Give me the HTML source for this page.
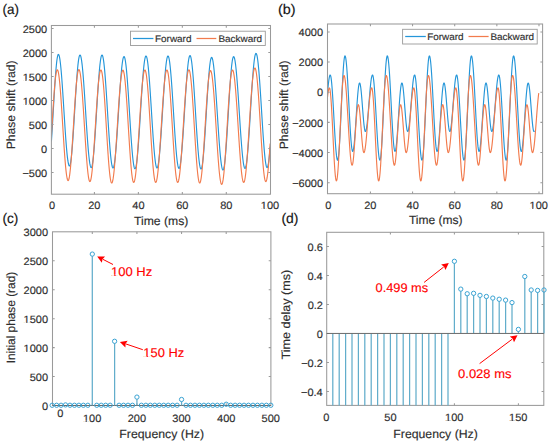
<!DOCTYPE html>
<html><head><meta charset="utf-8"><style>
html,body{margin:0;padding:0;background:#fff;width:550px;height:443px;overflow:hidden}
svg{display:block}
text{font-family:"Liberation Sans", sans-serif;text-rendering:geometricPrecision}
</style></head><body>
<svg width="550" height="443" viewBox="0 0 550 443">
<rect width="550" height="443" fill="#fff"/>
<clipPath id="ca"><rect x="51.4" y="25.5" width="219.1" height="168.7"/></clipPath>
<path d="M51.40 141.42 L51.65 137.75 L51.90 133.92 L52.15 129.95 L52.40 125.86 L52.65 121.68 L52.90 117.43 L53.15 113.13 L53.40 108.82 L53.65 104.52 L53.90 100.25 L54.15 96.04 L54.40 91.91 L54.65 87.89 L54.90 84.01 L55.15 80.28 L55.40 76.74 L55.65 73.39 L55.90 70.26 L56.15 67.37 L56.40 64.73 L56.65 62.37 L56.90 60.30 L57.15 58.52 L57.40 57.05 L57.65 55.89 L57.90 55.07 L58.15 54.57 L58.40 54.40 L58.65 54.54 L58.90 54.97 L59.15 55.68 L59.40 56.66 L59.65 57.92 L59.90 59.44 L60.15 61.23 L60.40 63.26 L60.65 65.53 L60.90 68.03 L61.15 70.74 L61.40 73.66 L61.65 76.76 L61.90 80.03 L62.15 83.46 L62.40 87.02 L62.65 90.70 L62.90 94.48 L63.15 98.34 L63.40 102.26 L63.65 106.22 L63.90 110.20 L64.15 114.18 L64.40 118.14 L64.65 122.06 L64.90 125.92 L65.15 129.70 L65.40 133.38 L65.65 136.94 L65.90 140.37 L66.15 143.64 L66.40 146.74 L66.65 149.66 L66.90 152.37 L67.15 154.87 L67.40 157.14 L67.65 159.17 L67.90 160.96 L68.15 162.48 L68.40 163.74 L68.65 164.72 L68.90 165.43 L69.15 165.86 L69.40 166.00 L69.65 165.85 L69.90 165.39 L70.15 164.63 L70.40 163.58 L70.65 162.23 L70.90 160.61 L71.15 158.70 L71.40 156.53 L71.65 154.11 L71.90 151.45 L72.15 148.56 L72.40 145.47 L72.65 142.18 L72.90 138.72 L73.15 135.11 L73.40 131.36 L73.65 127.49 L73.90 123.54 L74.15 119.51 L74.40 115.43 L74.65 111.32 L74.90 107.21 L75.15 103.12 L75.40 99.07 L75.65 95.08 L75.90 91.17 L76.15 87.38 L76.40 83.71 L76.65 80.18 L76.90 76.82 L77.15 73.65 L77.40 70.68 L77.65 67.93 L77.90 65.41 L78.15 63.14 L78.40 61.12 L78.65 59.38 L78.90 57.92 L79.15 56.75 L79.40 55.88 L79.65 55.30 L79.90 55.02 L80.15 55.05 L80.40 55.35 L80.65 55.93 L80.90 56.78 L81.15 57.90 L81.40 59.29 L81.65 60.92 L81.90 62.81 L82.15 64.93 L82.40 67.28 L82.65 69.85 L82.90 72.62 L83.15 75.58 L83.40 78.72 L83.65 82.02 L83.90 85.46 L84.15 89.03 L84.40 92.71 L84.65 96.47 L84.90 100.32 L85.15 104.21 L85.40 108.14 L85.65 112.09 L85.90 116.03 L86.15 119.95 L86.40 123.83 L86.65 127.64 L86.90 131.38 L87.15 135.01 L87.40 138.53 L87.65 141.92 L87.90 145.15 L88.15 148.22 L88.40 151.11 L88.65 153.80 L88.90 156.28 L89.15 158.55 L89.40 160.58 L89.65 162.36 L89.90 163.90 L90.15 165.18 L90.40 166.19 L90.65 166.93 L90.90 167.40 L91.15 167.59 L91.40 167.50 L91.65 167.12 L91.90 166.44 L92.15 165.46 L92.40 164.20 L92.65 162.67 L92.90 160.86 L93.15 158.78 L93.40 156.46 L93.65 153.90 L93.90 151.11 L94.15 148.11 L94.40 144.92 L94.65 141.55 L94.90 138.02 L95.15 134.35 L95.40 130.56 L95.65 126.66 L95.90 122.68 L96.15 118.65 L96.40 114.57 L96.65 110.48 L96.90 106.39 L97.15 102.33 L97.40 98.32 L97.65 94.37 L97.90 90.51 L98.15 86.77 L98.40 83.15 L98.65 79.68 L98.90 76.38 L99.15 73.26 L99.40 70.35 L99.65 67.65 L99.90 65.18 L100.15 62.96 L100.40 60.99 L100.65 59.29 L100.90 57.86 L101.15 56.71 L101.40 55.86 L101.65 55.29 L101.90 55.02 L102.15 55.05 L102.40 55.37 L102.65 55.97 L102.90 56.86 L103.15 58.02 L103.40 59.46 L103.65 61.16 L103.90 63.12 L104.15 65.32 L104.40 67.76 L104.65 70.42 L104.90 73.30 L105.15 76.36 L105.40 79.61 L105.65 83.02 L105.90 86.57 L106.15 90.25 L106.40 94.04 L106.65 97.92 L106.90 101.87 L107.15 105.86 L107.40 109.89 L107.65 113.92 L107.90 117.94 L108.15 121.93 L108.40 125.86 L108.65 129.72 L108.90 133.49 L109.15 137.15 L109.40 140.68 L109.65 144.05 L109.90 147.27 L110.15 150.29 L110.40 153.13 L110.65 155.75 L110.90 158.14 L111.15 160.30 L111.40 162.20 L111.65 163.85 L111.90 165.23 L112.15 166.34 L112.40 167.17 L112.65 167.72 L112.90 167.98 L113.15 167.95 L113.40 167.64 L113.65 167.04 L113.90 166.17 L114.15 165.02 L114.40 163.61 L114.65 161.93 L114.90 160.00 L115.15 157.83 L115.40 155.42 L115.65 152.79 L115.90 149.96 L116.15 146.94 L116.40 143.74 L116.65 140.38 L116.90 136.88 L117.15 133.25 L117.40 129.51 L117.65 125.69 L117.90 121.80 L118.15 117.86 L118.40 113.89 L118.65 109.91 L118.90 105.95 L119.15 102.02 L119.40 98.14 L119.65 94.33 L119.90 90.62 L120.15 87.01 L120.40 83.54 L120.65 80.21 L120.90 77.04 L121.15 74.05 L121.40 71.26 L121.65 68.68 L121.90 66.32 L122.15 64.20 L122.40 62.31 L122.65 60.69 L122.90 59.33 L123.15 58.23 L123.40 57.42 L123.65 56.88 L123.90 56.62 L124.15 56.65 L124.40 56.97 L124.65 57.56 L124.90 58.44 L125.15 59.60 L125.40 61.02 L125.65 62.71 L125.90 64.66 L126.15 66.85 L126.40 69.27 L126.65 71.91 L126.90 74.77 L127.15 77.81 L127.40 81.03 L127.65 84.42 L127.90 87.95 L128.15 91.60 L128.40 95.36 L128.65 99.21 L128.90 103.13 L129.15 107.10 L129.40 111.10 L129.65 115.10 L129.90 119.09 L130.15 123.05 L130.40 126.96 L130.65 130.80 L130.90 134.54 L131.15 138.17 L131.40 141.67 L131.65 145.02 L131.90 148.21 L132.15 151.22 L132.40 154.03 L132.65 156.63 L132.90 159.01 L133.15 161.15 L133.40 163.04 L133.65 164.68 L133.90 166.05 L134.15 167.16 L134.40 167.98 L134.65 168.52 L134.90 168.78 L135.15 168.75 L135.40 168.43 L135.65 167.83 L135.90 166.95 L136.15 165.79 L136.40 164.35 L136.65 162.65 L136.90 160.70 L137.15 158.50 L137.40 156.06 L137.65 153.40 L137.90 150.54 L138.15 147.47 L138.40 144.23 L138.65 140.83 L138.90 137.28 L139.15 133.61 L139.40 129.83 L139.65 125.96 L139.90 122.02 L140.15 118.03 L140.40 114.01 L140.65 109.98 L140.90 105.97 L141.15 101.99 L141.40 98.06 L141.65 94.21 L141.90 90.45 L142.15 86.79 L142.40 83.28 L142.65 79.90 L142.90 76.70 L143.15 73.67 L143.40 70.85 L143.65 68.23 L143.90 65.84 L144.15 63.69 L144.40 61.79 L144.65 60.14 L144.90 58.76 L145.15 57.65 L145.40 56.83 L145.65 56.28 L145.90 56.02 L146.15 56.05 L146.40 56.37 L146.65 56.96 L146.90 57.84 L147.15 58.99 L147.40 60.42 L147.65 62.10 L147.90 64.04 L148.15 66.23 L148.40 68.65 L148.65 71.29 L148.90 74.13 L149.15 77.17 L149.40 80.39 L149.65 83.77 L149.90 87.29 L150.15 90.94 L150.40 94.70 L150.65 98.54 L150.90 102.45 L151.15 106.41 L151.40 110.40 L151.65 114.40 L151.90 118.38 L152.15 122.34 L152.40 126.24 L152.65 130.06 L152.90 133.80 L153.15 137.42 L153.40 140.92 L153.65 144.27 L153.90 147.45 L154.15 150.45 L154.40 153.26 L154.65 155.85 L154.90 158.23 L155.15 160.36 L155.40 162.25 L155.65 163.89 L155.90 165.26 L156.15 166.36 L156.40 167.18 L156.65 167.72 L156.90 167.98 L157.15 167.95 L157.40 167.63 L157.65 167.04 L157.90 166.16 L158.15 165.01 L158.40 163.58 L158.65 161.90 L158.90 159.96 L159.15 157.77 L159.40 155.35 L159.65 152.71 L159.90 149.87 L160.15 146.83 L160.40 143.61 L160.65 140.23 L160.90 136.71 L161.15 133.06 L161.40 129.30 L161.65 125.46 L161.90 121.55 L162.15 117.59 L162.40 113.60 L162.65 109.60 L162.90 105.62 L163.15 101.66 L163.40 97.76 L163.65 93.94 L163.90 90.20 L164.15 86.58 L164.40 83.08 L164.65 79.73 L164.90 76.55 L165.15 73.55 L165.40 70.74 L165.65 68.15 L165.90 65.77 L166.15 63.64 L166.40 61.75 L166.65 60.11 L166.90 58.74 L167.15 57.64 L167.40 56.82 L167.65 56.28 L167.90 56.02 L168.15 56.05 L168.40 56.37 L168.65 56.97 L168.90 57.85 L169.15 59.00 L169.40 60.43 L169.65 62.13 L169.90 64.07 L170.15 66.27 L170.40 68.69 L170.65 71.34 L170.90 74.20 L171.15 77.25 L171.40 80.48 L171.65 83.87 L171.90 87.40 L172.15 91.06 L172.40 94.83 L172.65 98.69 L172.90 102.62 L173.15 106.59 L173.40 110.60 L173.65 114.61 L173.90 118.61 L174.15 122.57 L174.40 126.49 L174.65 130.33 L174.90 134.08 L175.15 137.71 L175.40 141.22 L175.65 144.58 L175.90 147.78 L176.15 150.79 L176.40 153.60 L176.65 156.21 L176.90 158.59 L177.15 160.74 L177.40 162.63 L177.65 164.27 L177.90 165.65 L178.15 166.75 L178.40 167.58 L178.65 168.12 L178.90 168.38 L179.15 168.35 L179.40 168.03 L179.65 167.43 L179.90 166.55 L180.15 165.39 L180.40 163.95 L180.65 162.25 L180.90 160.30 L181.15 158.10 L181.40 155.66 L181.65 153.00 L181.90 150.14 L182.15 147.07 L182.40 143.83 L182.65 140.43 L182.90 136.88 L183.15 133.21 L183.40 129.43 L183.65 125.56 L183.90 121.62 L184.15 117.63 L184.40 113.61 L184.65 109.58 L184.90 105.57 L185.15 101.59 L185.40 97.66 L185.65 93.81 L185.90 90.05 L186.15 86.39 L186.40 82.88 L186.65 79.50 L186.90 76.30 L187.15 73.27 L187.40 70.45 L187.65 67.83 L187.90 65.44 L188.15 63.29 L188.40 61.39 L188.65 59.74 L188.90 58.36 L189.15 57.25 L189.40 56.43 L189.65 55.88 L189.90 55.62 L190.15 55.65 L190.40 55.97 L190.65 56.57 L190.90 57.46 L191.15 58.63 L191.40 60.07 L191.65 61.78 L191.90 63.75 L192.15 65.96 L192.40 68.41 L192.65 71.08 L192.90 73.96 L193.15 77.04 L193.40 80.30 L193.65 83.72 L193.90 87.28 L194.15 90.98 L194.40 94.78 L194.65 98.67 L194.90 102.63 L195.15 106.64 L195.40 110.68 L195.65 114.73 L195.90 118.76 L196.15 122.77 L196.40 126.71 L196.65 130.59 L196.90 134.37 L197.15 138.04 L197.40 141.58 L197.65 144.97 L197.90 148.19 L198.15 151.23 L198.40 154.07 L198.65 156.70 L198.90 159.10 L199.15 161.27 L199.40 163.18 L199.65 164.84 L199.90 166.22 L200.15 167.34 L200.40 168.17 L200.65 168.72 L200.90 168.98 L201.15 168.94 L201.40 168.61 L201.65 167.97 L201.90 167.03 L202.15 165.79 L202.40 164.27 L202.65 162.46 L202.90 160.38 L203.15 158.05 L203.40 155.47 L203.65 152.66 L203.90 149.63 L204.15 146.40 L204.40 142.99 L204.65 139.41 L204.90 135.69 L205.15 131.85 L205.40 127.91 L205.65 123.88 L205.90 119.80 L206.15 115.68 L206.40 111.55 L206.65 107.42 L206.90 103.33 L207.15 99.29 L207.40 95.33 L207.65 91.46 L207.90 87.72 L208.15 84.12 L208.40 80.67 L208.65 77.40 L208.90 74.33 L209.15 71.48 L209.40 68.85 L209.65 66.46 L209.90 64.33 L210.15 62.47 L210.40 60.89 L210.65 59.60 L210.90 58.60 L211.15 57.90 L211.40 57.50 L211.65 57.41 L211.90 57.59 L212.15 58.05 L212.40 58.76 L212.65 59.74 L212.90 60.97 L213.15 62.46 L213.40 64.19 L213.65 66.15 L213.90 68.34 L214.15 70.74 L214.40 73.35 L214.65 76.14 L214.90 79.12 L215.15 82.26 L215.40 85.55 L215.65 88.97 L215.90 92.51 L216.15 96.15 L216.40 99.88 L216.65 103.67 L216.90 107.51 L217.15 111.37 L217.40 115.25 L217.65 119.12 L217.90 122.97 L218.15 126.77 L218.40 130.51 L218.65 134.17 L218.90 137.73 L219.15 141.18 L219.40 144.49 L219.65 147.66 L219.90 150.68 L220.15 153.51 L220.40 156.16 L220.65 158.60 L220.90 160.83 L221.15 162.84 L221.40 164.62 L221.65 166.15 L221.90 167.43 L222.15 168.46 L222.40 169.23 L222.65 169.74 L222.90 169.98 L223.15 169.94 L223.40 169.60 L223.65 168.95 L223.90 167.99 L224.15 166.74 L224.40 165.19 L224.65 163.35 L224.90 161.25 L225.15 158.87 L225.40 156.25 L225.65 153.39 L225.90 150.32 L226.15 147.03 L226.40 143.57 L226.65 139.94 L226.90 136.16 L227.15 132.25 L227.40 128.25 L227.65 124.16 L227.90 120.01 L228.15 115.82 L228.40 111.62 L228.65 107.43 L228.90 103.27 L229.15 99.17 L229.40 95.14 L229.65 91.21 L229.90 87.41 L230.15 83.75 L230.40 80.25 L230.65 76.93 L230.90 73.81 L231.15 70.90 L231.40 68.23 L231.65 65.81 L231.90 63.65 L232.15 61.76 L232.40 60.15 L232.65 58.83 L232.90 57.82 L233.15 57.10 L233.40 56.70 L233.65 56.61 L233.90 56.79 L234.15 57.24 L234.40 57.95 L234.65 58.92 L234.90 60.15 L235.15 61.62 L235.40 63.34 L235.65 65.29 L235.90 67.46 L236.15 69.84 L236.40 72.43 L236.65 75.21 L236.90 78.17 L237.15 81.28 L237.40 84.55 L237.65 87.95 L237.90 91.46 L238.15 95.08 L238.40 98.78 L238.65 102.54 L238.90 106.35 L239.15 110.19 L239.40 114.04 L239.65 117.88 L239.90 121.70 L240.15 125.47 L240.40 129.19 L240.65 132.82 L240.90 136.36 L241.15 139.78 L241.40 143.07 L241.65 146.22 L241.90 149.21 L242.15 152.03 L242.40 154.65 L242.65 157.08 L242.90 159.30 L243.15 161.29 L243.40 163.05 L243.65 164.58 L243.90 165.85 L244.15 166.87 L244.40 167.64 L244.65 168.14 L244.90 168.38 L245.15 168.35 L245.40 168.03 L245.65 167.41 L245.90 166.51 L246.15 165.33 L246.40 163.86 L246.65 162.13 L246.90 160.14 L247.15 157.90 L247.40 155.41 L247.65 152.70 L247.90 149.78 L248.15 146.66 L248.40 143.36 L248.65 139.89 L248.90 136.27 L249.15 132.52 L249.40 128.67 L249.65 124.72 L249.90 120.71 L250.15 116.64 L250.40 112.54 L250.65 108.44 L250.90 104.35 L251.15 100.29 L251.40 96.28 L251.65 92.35 L251.90 88.52 L252.15 84.80 L252.40 81.21 L252.65 77.77 L252.90 74.50 L253.15 71.42 L253.40 68.54 L253.65 65.87 L253.90 63.44 L254.15 61.24 L254.40 59.30 L254.65 57.62 L254.90 56.21 L255.15 55.09 L255.40 54.24 L255.65 53.69 L255.90 53.42 L256.15 53.45 L256.40 53.77 L256.65 54.36 L256.90 55.24 L257.15 56.40 L257.40 57.82 L257.65 59.51 L257.90 61.46 L258.15 63.65 L258.40 66.07 L258.65 68.72 L258.90 71.58 L259.15 74.63 L259.40 77.86 L259.65 81.25 L259.90 84.79 L260.15 88.46 L260.40 92.24 L260.65 96.11 L260.90 100.05 L261.15 104.05 L261.40 108.08 L261.65 112.12 L261.90 116.15 L262.15 120.15 L262.40 124.10 L262.65 127.99 L262.90 131.79 L263.15 135.48 L263.40 139.05 L263.65 142.47 L263.90 145.74 L264.15 148.83 L264.40 151.72 L264.65 154.41 L264.90 156.88 L265.15 159.12 L265.40 161.12 L265.65 162.86 L265.90 164.34 L266.15 165.55 L266.40 166.48 L266.65 167.14 L266.90 167.51 L267.15 167.59 L267.40 167.38 L267.65 166.88 L267.90 166.07 L268.15 164.98 L268.40 163.60 L268.65 161.95 L268.90 160.02 L269.15 157.83 L269.40 155.40 L269.65 152.73 L269.90 149.84 L270.15 146.74" stroke="#2496d9" stroke-width="1.15" fill="none" stroke-linejoin="round" clip-path="url(#ca)"/>
<path d="M51.40 135.91 L51.65 131.81 L51.90 127.69 L52.15 123.54 L52.40 119.41 L52.65 115.31 L52.90 111.26 L53.15 107.29 L53.40 103.43 L53.65 99.68 L53.90 96.08 L54.15 92.64 L54.40 89.38 L54.65 86.32 L54.90 83.48 L55.15 80.87 L55.40 78.51 L55.65 76.42 L55.90 74.59 L56.15 73.05 L56.40 71.80 L56.65 70.84 L56.90 70.20 L57.15 69.86 L57.40 69.82 L57.65 70.09 L57.90 70.64 L58.15 71.48 L58.40 72.61 L58.65 74.02 L58.90 75.69 L59.15 77.63 L59.40 79.82 L59.65 82.25 L59.90 84.90 L60.15 87.77 L60.40 90.84 L60.65 94.09 L60.90 97.50 L61.15 101.06 L61.40 104.75 L61.65 108.54 L61.90 112.42 L62.15 116.37 L62.40 120.37 L62.65 124.39 L62.90 128.42 L63.15 132.43 L63.40 136.40 L63.65 140.32 L63.90 144.15 L64.15 147.88 L64.40 151.49 L64.65 154.97 L64.90 158.28 L65.15 161.42 L65.40 164.37 L65.65 167.12 L65.90 169.64 L66.15 171.92 L66.40 173.96 L66.65 175.74 L66.90 177.26 L67.15 178.50 L67.40 179.46 L67.65 180.13 L67.90 180.51 L68.15 180.59 L68.40 180.39 L68.65 179.89 L68.90 179.10 L69.15 178.03 L69.40 176.68 L69.65 175.05 L69.90 173.16 L70.15 171.02 L70.40 168.64 L70.65 166.02 L70.90 163.19 L71.15 160.15 L71.40 156.93 L71.65 153.55 L71.90 150.01 L72.15 146.34 L72.40 142.56 L72.65 138.68 L72.90 134.74 L73.15 130.74 L73.40 126.71 L73.65 122.68 L73.90 118.66 L74.15 114.67 L74.40 110.74 L74.65 106.88 L74.90 103.12 L75.15 99.47 L75.40 95.96 L75.65 92.61 L75.90 89.43 L76.15 86.43 L76.40 83.64 L76.65 81.07 L76.90 78.73 L77.15 76.64 L77.40 74.80 L77.65 73.23 L77.90 71.93 L78.15 70.92 L78.40 70.19 L78.65 69.75 L78.90 69.60 L79.15 69.74 L79.40 70.17 L79.65 70.88 L79.90 71.87 L80.15 73.13 L80.40 74.66 L80.65 76.45 L80.90 78.49 L81.15 80.77 L81.40 83.28 L81.65 86.00 L81.90 88.93 L82.15 92.04 L82.40 95.32 L82.65 98.76 L82.90 102.34 L83.15 106.03 L83.40 109.82 L83.65 113.70 L83.90 117.63 L84.15 121.61 L84.40 125.60 L84.65 129.59 L84.90 133.57 L85.15 137.50 L85.40 141.38 L85.65 145.17 L85.90 148.86 L86.15 152.44 L86.40 155.88 L86.65 159.16 L86.90 162.27 L87.15 165.20 L87.40 167.92 L87.65 170.43 L87.90 172.71 L88.15 174.75 L88.40 176.54 L88.65 178.07 L88.90 179.33 L89.15 180.32 L89.40 181.03 L89.65 181.46 L89.90 181.60 L90.15 181.46 L90.40 181.03 L90.65 180.32 L90.90 179.34 L91.15 178.08 L91.40 176.56 L91.65 174.77 L91.90 172.74 L92.15 170.47 L92.40 167.97 L92.65 165.26 L92.90 162.34 L93.15 159.24 L93.40 155.97 L93.65 152.54 L93.90 148.98 L94.15 145.30 L94.40 141.52 L94.65 137.66 L94.90 133.74 L95.15 129.78 L95.40 125.80 L95.65 121.82 L95.90 117.86 L96.15 113.94 L96.40 110.08 L96.65 106.30 L96.90 102.62 L97.15 99.06 L97.40 95.63 L97.65 92.36 L97.90 89.26 L98.15 86.34 L98.40 83.63 L98.65 81.13 L98.90 78.86 L99.15 76.83 L99.40 75.04 L99.65 73.52 L99.90 72.26 L100.15 71.28 L100.40 70.57 L100.65 70.14 L100.90 70.00 L101.15 70.15 L101.40 70.60 L101.65 71.34 L101.90 72.37 L102.15 73.69 L102.40 75.29 L102.65 77.16 L102.90 79.29 L103.15 81.68 L103.40 84.29 L103.65 87.13 L103.90 90.18 L104.15 93.42 L104.40 96.84 L104.65 100.41 L104.90 104.12 L105.15 107.95 L105.40 111.88 L105.65 115.88 L105.90 119.94 L106.15 124.04 L106.40 128.14 L106.65 132.24 L106.90 136.31 L107.15 140.33 L107.40 144.27 L107.65 148.12 L107.90 151.86 L108.15 155.46 L108.40 158.91 L108.65 162.18 L108.90 165.27 L109.15 168.16 L109.40 170.82 L109.65 173.25 L109.90 175.43 L110.15 177.35 L110.40 179.01 L110.65 180.39 L110.90 181.48 L111.15 182.28 L111.40 182.79 L111.65 182.99 L111.90 182.91 L112.15 182.55 L112.40 181.92 L112.65 181.01 L112.90 179.84 L113.15 178.40 L113.40 176.71 L113.65 174.77 L113.90 172.60 L114.15 170.20 L114.40 167.58 L114.65 164.77 L114.90 161.76 L115.15 158.59 L115.40 155.26 L115.65 151.78 L115.90 148.18 L116.15 144.48 L116.40 140.69 L116.65 136.83 L116.90 132.91 L117.15 128.97 L117.40 125.02 L117.65 121.07 L117.90 117.15 L118.15 113.28 L118.40 109.47 L118.65 105.75 L118.90 102.13 L119.15 98.63 L119.40 95.27 L119.65 92.06 L119.90 89.02 L120.15 86.16 L120.40 83.51 L120.65 81.06 L120.90 78.84 L121.15 76.86 L121.40 75.12 L121.65 73.63 L121.90 72.40 L122.15 71.44 L122.40 70.75 L122.65 70.34 L122.90 70.20 L123.15 70.35 L123.40 70.79 L123.65 71.53 L123.90 72.56 L124.15 73.87 L124.40 75.46 L124.65 77.31 L124.90 79.43 L125.15 81.79 L125.40 84.39 L125.65 87.21 L125.90 90.24 L126.15 93.46 L126.40 96.85 L126.65 100.40 L126.90 104.08 L127.15 107.88 L127.40 111.78 L127.65 115.76 L127.90 119.79 L128.15 123.85 L128.40 127.93 L128.65 132.00 L128.90 136.04 L129.15 140.03 L129.40 143.95 L129.65 147.77 L129.90 151.48 L130.15 155.05 L130.40 158.48 L130.65 161.73 L130.90 164.80 L131.15 167.66 L131.40 170.31 L131.65 172.72 L131.90 174.88 L132.15 176.79 L132.40 178.44 L132.65 179.80 L132.90 180.89 L133.15 181.68 L133.40 182.19 L133.65 182.39 L133.90 182.31 L134.15 181.95 L134.40 181.32 L134.65 180.42 L134.90 179.25 L135.15 177.82 L135.40 176.13 L135.65 174.20 L135.90 172.03 L136.15 169.64 L136.40 167.04 L136.65 164.23 L136.90 161.24 L137.15 158.08 L137.40 154.75 L137.65 151.29 L137.90 147.71 L138.15 144.02 L138.40 140.24 L138.65 136.39 L138.90 132.49 L139.15 128.56 L139.40 124.62 L139.65 120.69 L139.90 116.79 L140.15 112.93 L140.40 109.13 L140.65 105.42 L140.90 101.82 L141.15 98.33 L141.40 94.98 L141.65 91.78 L141.90 88.75 L142.15 85.91 L142.40 83.26 L142.65 80.83 L142.90 78.61 L143.15 76.64 L143.40 74.90 L143.65 73.42 L143.90 72.20 L144.15 71.24 L144.40 70.55 L144.65 70.14 L144.90 70.00 L145.15 70.15 L145.40 70.59 L145.65 71.33 L145.90 72.36 L146.15 73.67 L146.40 75.27 L146.65 77.13 L146.90 79.25 L147.15 81.61 L147.40 84.22 L147.65 87.04 L147.90 90.08 L148.15 93.30 L148.40 96.70 L148.65 100.25 L148.90 103.94 L149.15 107.75 L149.40 111.65 L149.65 115.64 L149.90 119.68 L150.15 123.75 L150.40 127.83 L150.65 131.91 L150.90 135.96 L151.15 139.95 L151.40 143.88 L151.65 147.71 L151.90 151.42 L152.15 155.00 L152.40 158.43 L152.65 161.69 L152.90 164.77 L153.15 167.63 L153.40 170.28 L153.65 172.70 L153.90 174.87 L154.15 176.78 L154.40 178.43 L154.65 179.80 L154.90 180.89 L155.15 181.68 L155.40 182.19 L155.65 182.39 L155.90 182.31 L156.15 181.95 L156.40 181.32 L156.65 180.42 L156.90 179.25 L157.15 177.82 L157.40 176.13 L157.65 174.20 L157.90 172.03 L158.15 169.64 L158.40 167.04 L158.65 164.23 L158.90 161.24 L159.15 158.08 L159.40 154.75 L159.65 151.29 L159.90 147.71 L160.15 144.02 L160.40 140.24 L160.65 136.39 L160.90 132.49 L161.15 128.56 L161.40 124.62 L161.65 120.69 L161.90 116.79 L162.15 112.93 L162.40 109.13 L162.65 105.42 L162.90 101.82 L163.15 98.33 L163.40 94.98 L163.65 91.78 L163.90 88.75 L164.15 85.91 L164.40 83.26 L164.65 80.83 L164.90 78.61 L165.15 76.64 L165.40 74.90 L165.65 73.42 L165.90 72.20 L166.15 71.24 L166.40 70.55 L166.65 70.14 L166.90 70.00 L167.15 70.15 L167.40 70.59 L167.65 71.33 L167.90 72.36 L168.15 73.67 L168.40 75.27 L168.65 77.13 L168.90 79.25 L169.15 81.61 L169.40 84.22 L169.65 87.04 L169.90 90.08 L170.15 93.30 L170.40 96.70 L170.65 100.25 L170.90 103.94 L171.15 107.75 L171.40 111.65 L171.65 115.64 L171.90 119.68 L172.15 123.75 L172.40 127.83 L172.65 131.91 L172.90 135.96 L173.15 139.95 L173.40 143.88 L173.65 147.71 L173.90 151.42 L174.15 155.00 L174.40 158.43 L174.65 161.69 L174.90 164.77 L175.15 167.63 L175.40 170.28 L175.65 172.70 L175.90 174.87 L176.15 176.78 L176.40 178.43 L176.65 179.80 L176.90 180.89 L177.15 181.68 L177.40 182.19 L177.65 182.39 L177.90 182.31 L178.15 181.95 L178.40 181.32 L178.65 180.41 L178.90 179.24 L179.15 177.81 L179.40 176.12 L179.65 174.19 L179.90 172.02 L180.15 169.62 L180.40 167.01 L180.65 164.20 L180.90 161.20 L181.15 158.03 L181.40 154.70 L181.65 151.24 L181.90 147.65 L182.15 143.95 L182.40 140.16 L182.65 136.31 L182.90 132.40 L183.15 128.47 L183.40 124.52 L183.65 120.58 L183.90 116.67 L184.15 112.80 L184.40 109.00 L184.65 105.29 L184.90 101.67 L185.15 98.18 L185.40 94.82 L185.65 91.62 L185.90 88.58 L186.15 85.74 L186.40 83.08 L186.65 80.65 L186.90 78.43 L187.15 76.45 L187.40 74.71 L187.65 73.23 L187.90 72.00 L188.15 71.04 L188.40 70.35 L188.65 69.94 L188.90 69.80 L189.15 69.95 L189.40 70.40 L189.65 71.14 L189.90 72.18 L190.15 73.50 L190.40 75.10 L190.65 76.98 L190.90 79.11 L191.15 81.50 L191.40 84.12 L191.65 86.96 L191.90 90.02 L192.15 93.26 L192.40 96.69 L192.65 100.27 L192.90 103.98 L193.15 107.82 L193.40 111.75 L193.65 115.76 L193.90 119.83 L194.15 123.93 L194.40 128.05 L194.65 132.15 L194.90 136.23 L195.15 140.25 L195.40 144.20 L195.65 148.06 L195.90 151.80 L196.15 155.41 L196.40 158.86 L196.65 162.15 L196.90 165.24 L197.15 168.13 L197.40 170.80 L197.65 173.23 L197.90 175.42 L198.15 177.34 L198.40 179.00 L198.65 180.38 L198.90 181.47 L199.15 182.28 L199.40 182.78 L199.65 182.99 L199.90 182.90 L200.15 182.52 L200.40 181.84 L200.65 180.87 L200.90 179.61 L201.15 178.07 L201.40 176.27 L201.65 174.20 L201.90 171.88 L202.15 169.32 L202.40 166.54 L202.65 163.55 L202.90 160.36 L203.15 157.00 L203.40 153.47 L203.65 149.81 L203.90 146.02 L204.15 142.13 L204.40 138.16 L204.65 134.14 L204.90 130.07 L205.15 125.98 L205.40 121.90 L205.65 117.85 L205.90 113.84 L206.15 109.90 L206.40 106.05 L206.65 102.31 L206.90 98.70 L207.15 95.24 L207.40 91.94 L207.65 88.83 L207.90 85.92 L208.15 83.23 L208.40 80.76 L208.65 78.54 L208.90 76.58 L209.15 74.88 L209.40 73.45 L209.65 72.31 L209.90 71.45 L210.15 70.89 L210.40 70.62 L210.65 70.65 L210.90 70.96 L211.15 71.54 L211.40 72.40 L211.65 73.53 L211.90 74.93 L212.15 76.59 L212.40 78.49 L212.65 80.64 L212.90 83.01 L213.15 85.61 L213.40 88.41 L213.65 91.40 L213.90 94.57 L214.15 97.91 L214.40 101.38 L214.65 104.99 L214.90 108.71 L215.15 112.52 L215.40 116.40 L215.65 120.34 L215.90 124.31 L216.15 128.30 L216.40 132.28 L216.65 136.24 L216.90 140.16 L217.15 144.02 L217.40 147.79 L217.65 151.47 L217.90 155.02 L218.15 158.45 L218.40 161.71 L218.65 164.82 L218.90 167.73 L219.15 170.45 L219.40 172.96 L219.65 175.25 L219.90 177.30 L220.15 179.11 L220.40 180.66 L220.65 181.95 L220.90 182.97 L221.15 183.72 L221.40 184.20 L221.65 184.39 L221.90 184.30 L222.15 183.91 L222.40 183.22 L222.65 182.23 L222.90 180.95 L223.15 179.39 L223.40 177.55 L223.65 175.44 L223.90 173.08 L224.15 170.48 L224.40 167.65 L224.65 164.60 L224.90 161.36 L225.15 157.93 L225.40 154.35 L225.65 150.62 L225.90 146.76 L226.15 142.81 L226.40 138.77 L226.65 134.67 L226.90 130.53 L227.15 126.37 L227.40 122.21 L227.65 118.09 L227.90 114.01 L228.15 110.00 L228.40 106.08 L228.65 102.27 L228.90 98.60 L229.15 95.08 L229.40 91.72 L229.65 88.56 L229.90 85.59 L230.15 82.85 L230.40 80.34 L230.65 78.08 L230.90 76.08 L231.15 74.35 L231.40 72.90 L231.65 71.74 L231.90 70.87 L232.15 70.30 L232.40 70.02 L232.65 70.05 L232.90 70.35 L233.15 70.93 L233.40 71.78 L233.65 72.90 L233.90 74.28 L234.15 75.91 L234.40 77.79 L234.65 79.91 L234.90 82.26 L235.15 84.82 L235.40 87.59 L235.65 90.55 L235.90 93.68 L236.15 96.97 L236.40 100.41 L236.65 103.97 L236.90 107.64 L237.15 111.40 L237.40 115.24 L237.65 119.12 L237.90 123.05 L238.15 126.99 L238.40 130.92 L238.65 134.84 L238.90 138.71 L239.15 142.51 L239.40 146.24 L239.65 149.87 L239.90 153.39 L240.15 156.76 L240.40 159.99 L240.65 163.06 L240.90 165.94 L241.15 168.63 L241.40 171.10 L241.65 173.36 L241.90 175.39 L242.15 177.17 L242.40 178.70 L242.65 179.98 L242.90 180.99 L243.15 181.73 L243.40 182.20 L243.65 182.39 L243.90 182.31 L244.15 181.94 L244.40 181.30 L244.65 180.38 L244.90 179.19 L245.15 177.73 L245.40 176.02 L245.65 174.05 L245.90 171.85 L246.15 169.42 L246.40 166.76 L246.65 163.91 L246.90 160.86 L247.15 157.64 L247.40 154.26 L247.65 150.74 L247.90 147.09 L248.15 143.33 L248.40 139.49 L248.65 135.57 L248.90 131.60 L249.15 127.61 L249.40 123.60 L249.65 119.59 L249.90 115.62 L250.15 111.69 L250.40 107.83 L250.65 104.05 L250.90 100.38 L251.15 96.83 L251.40 93.42 L251.65 90.17 L251.90 87.08 L252.15 84.19 L252.40 81.50 L252.65 79.02 L252.90 76.77 L253.15 74.75 L253.40 72.99 L253.65 71.48 L253.90 70.24 L254.15 69.26 L254.40 68.56 L254.65 68.14 L254.90 68.00 L255.15 68.15 L255.40 68.59 L255.65 69.32 L255.90 70.34 L256.15 71.65 L256.40 73.23 L256.65 75.07 L256.90 77.18 L257.15 79.53 L257.40 82.12 L257.65 84.93 L257.90 87.94 L258.15 91.15 L258.40 94.53 L258.65 98.07 L258.90 101.75 L259.15 105.54 L259.40 109.44 L259.65 113.42 L259.90 117.45 L260.15 121.53 L260.40 125.62 L260.65 129.71 L260.90 133.77 L261.15 137.78 L261.40 141.73 L261.65 145.59 L261.90 149.34 L262.15 152.96 L262.40 156.44 L262.65 159.76 L262.90 162.89 L263.15 165.82 L263.40 168.54 L263.65 171.04 L263.90 173.29 L264.15 175.30 L264.40 177.04 L264.65 178.51 L264.90 179.70 L265.15 180.61 L265.40 181.22 L265.65 181.55 L265.90 181.58 L266.15 181.32 L266.40 180.78 L266.65 179.95 L266.90 178.84 L267.15 177.47 L267.40 175.82 L267.65 173.92 L267.90 171.77 L268.15 169.39 L268.40 166.78 L268.65 163.95 L268.90 160.93 L269.15 157.73 L269.40 154.36 L269.65 150.84 L269.90 147.19 L270.15 143.42" stroke="#f27b4d" stroke-width="1.15" fill="none" stroke-linejoin="round" clip-path="url(#ca)"/>
<rect x="51.40" y="25.50" width="219.10" height="168.70" fill="none" stroke="#9a9a9a" stroke-width="1.05"/>
<path d="M94.41 194.20V192.00M94.41 25.50V27.70M138.37 194.20V192.00M138.37 25.50V27.70M182.33 194.20V192.00M182.33 25.50V27.70M226.29 194.20V192.00M226.29 25.50V27.70M51.40 172.50H53.60M270.50 172.50H268.30M51.40 148.50H53.60M270.50 148.50H268.30M51.40 124.50H53.60M270.50 124.50H268.30M51.40 100.50H53.60M270.50 100.50H268.30M51.40 76.50H53.60M270.50 76.50H268.30M51.40 52.50H53.60M270.50 52.50H268.30M51.40 28.50H53.60M270.50 28.50H268.30" stroke="#9a9a9a" stroke-width="1.05" fill="none"/>
<text transform="translate(22.40 176.74) scale(1.040 1)" font-size="10.60" text-anchor="start" fill="#2e2e2e" stroke="#2e2e2e" stroke-width="0.15">−500</text>
<text transform="translate(41.10 152.74) scale(1.040 1)" font-size="10.60" text-anchor="start" fill="#2e2e2e" stroke="#2e2e2e" stroke-width="0.15">0</text>
<text transform="translate(28.84 128.74) scale(1.040 1)" font-size="10.60" text-anchor="start" fill="#2e2e2e" stroke="#2e2e2e" stroke-width="0.15">500</text>
<text transform="translate(22.71 104.74) scale(1.040 1)" font-size="10.60" text-anchor="start" fill="#2e2e2e" stroke="#2e2e2e" stroke-width="0.15">1000</text>
<g transform="translate(22.71 104.74) scale(1.040 1)" fill="#fff"><rect x="0.457" y="-0.912" width="2.188" height="1.292"/><rect x="3.622" y="-0.912" width="2.105" height="1.292"/></g>
<text transform="translate(22.71 80.74) scale(1.040 1)" font-size="10.60" text-anchor="start" fill="#2e2e2e" stroke="#2e2e2e" stroke-width="0.15">1500</text>
<g transform="translate(22.71 80.74) scale(1.040 1)" fill="#fff"><rect x="0.457" y="-0.912" width="2.188" height="1.292"/><rect x="3.622" y="-0.912" width="2.105" height="1.292"/></g>
<text transform="translate(22.71 56.74) scale(1.040 1)" font-size="10.60" text-anchor="start" fill="#2e2e2e" stroke="#2e2e2e" stroke-width="0.15">2000</text>
<text transform="translate(22.71 32.74) scale(1.040 1)" font-size="10.60" text-anchor="start" fill="#2e2e2e" stroke="#2e2e2e" stroke-width="0.15">2500</text>
<text transform="translate(48.94 209.00) scale(1.040 1)" font-size="10.60" text-anchor="start" fill="#2e2e2e" stroke="#2e2e2e" stroke-width="0.15">0</text>
<text transform="translate(88.22 209.00) scale(1.040 1)" font-size="10.60" text-anchor="start" fill="#2e2e2e" stroke="#2e2e2e" stroke-width="0.15">20</text>
<text transform="translate(132.33 209.00) scale(1.040 1)" font-size="10.60" text-anchor="start" fill="#2e2e2e" stroke="#2e2e2e" stroke-width="0.15">40</text>
<text transform="translate(176.13 209.00) scale(1.040 1)" font-size="10.60" text-anchor="start" fill="#2e2e2e" stroke="#2e2e2e" stroke-width="0.15">60</text>
<text transform="translate(220.14 209.00) scale(1.040 1)" font-size="10.60" text-anchor="start" fill="#2e2e2e" stroke="#2e2e2e" stroke-width="0.15">80</text>
<text transform="translate(260.85 209.00) scale(1.040 1)" font-size="10.60" text-anchor="start" fill="#2e2e2e" stroke="#2e2e2e" stroke-width="0.15">100</text>
<g transform="translate(260.85 209.00) scale(1.040 1)" fill="#fff"><rect x="0.457" y="-0.912" width="2.188" height="1.292"/><rect x="3.622" y="-0.912" width="2.105" height="1.292"/></g>
<text transform="translate(133.98 224.60) scale(1.016 1)" font-size="12.00" text-anchor="start" fill="#2e2e2e" stroke="#2e2e2e" stroke-width="0.15">Time (ms)</text>
<rect x="130.5" y="31.2" width="134.8" height="14.3" fill="#fff" stroke="#9a9a9a" stroke-width="0.9"/>
<path d="M133.0 38.5H153.4" stroke="#2496d9" stroke-width="1.25"/>
<path d="M196.5 38.5H216.3" stroke="#f27b4d" stroke-width="1.25"/>
<text transform="translate(155.03 41.70) scale(1.035 1)" font-size="9.60" text-anchor="start" fill="#2e2e2e" stroke="#2e2e2e" stroke-width="0.15">Forward</text>
<text transform="translate(218.43 41.70) scale(1.038 1)" font-size="9.60" text-anchor="start" fill="#2e2e2e" stroke="#2e2e2e" stroke-width="0.15">Backward</text>
<clipPath id="cb"><rect x="327.5" y="24.0" width="215.10000000000002" height="169.7"/></clipPath>
<path d="M327.50 93.55 L327.75 90.62 L328.00 87.86 L328.25 85.28 L328.50 82.94 L328.75 80.85 L329.00 79.06 L329.25 77.56 L329.50 76.40 L329.75 75.58 L330.00 75.12 L330.25 75.01 L330.50 75.35 L330.75 76.16 L331.00 77.43 L331.25 79.16 L331.50 81.32 L331.75 83.90 L332.00 86.84 L332.25 90.14 L332.50 93.75 L332.75 97.62 L333.00 101.72 L333.25 105.99 L333.50 110.40 L333.75 114.89 L334.00 119.41 L334.25 123.91 L334.50 128.33 L334.75 132.64 L335.00 136.78 L335.25 140.70 L335.50 144.36 L335.75 147.72 L336.00 150.74 L336.25 153.39 L336.50 155.64 L336.75 157.46 L337.00 158.83 L337.25 159.73 L337.50 160.16 L337.75 160.09 L338.00 159.45 L338.25 158.23 L338.50 156.44 L338.75 154.11 L339.00 151.26 L339.25 147.92 L339.50 144.13 L339.75 139.94 L340.00 135.39 L340.25 130.53 L340.50 125.42 L340.75 120.12 L341.00 114.67 L341.25 109.16 L341.50 103.63 L341.75 98.15 L342.00 92.78 L342.25 87.58 L342.50 82.62 L342.75 77.94 L343.00 73.60 L343.25 69.64 L343.50 66.12 L343.75 63.07 L344.00 60.53 L344.25 58.52 L344.50 57.07 L344.75 56.19 L345.00 55.90 L345.25 56.15 L345.50 56.89 L345.75 58.12 L346.00 59.82 L346.25 61.98 L346.50 64.57 L346.75 67.56 L347.00 70.93 L347.25 74.65 L347.50 78.66 L347.75 82.93 L348.00 87.42 L348.25 92.08 L348.50 96.85 L348.75 101.70 L349.00 106.57 L349.25 111.41 L349.50 116.17 L349.75 120.79 L350.00 125.24 L350.25 129.47 L350.50 133.42 L350.75 137.07 L351.00 140.37 L351.25 143.28 L351.50 145.79 L351.75 147.86 L352.00 149.47 L352.25 150.60 L352.50 151.24 L352.75 151.39 L353.00 151.08 L353.25 150.33 L353.50 149.16 L353.75 147.57 L354.00 145.58 L354.25 143.23 L354.50 140.54 L354.75 137.55 L355.00 134.30 L355.25 130.83 L355.50 127.17 L355.75 123.39 L356.00 119.53 L356.25 115.64 L356.50 111.77 L356.75 107.97 L357.00 104.29 L357.25 100.78 L357.50 97.48 L357.75 94.43 L358.00 91.68 L358.25 89.26 L358.50 87.20 L358.75 85.53 L359.00 84.27 L359.25 83.43 L359.50 83.04 L359.75 83.08 L360.00 83.57 L360.25 84.49 L360.50 85.82 L360.75 87.55 L361.00 89.64 L361.25 92.06 L361.50 94.75 L361.75 97.67 L362.00 100.76 L362.25 103.98 L362.50 107.25 L362.75 110.52 L363.00 113.74 L363.25 116.83 L363.50 119.75 L363.75 122.44 L364.00 124.86 L364.25 126.95 L364.50 128.68 L364.75 130.01 L365.00 130.93 L365.25 131.42 L365.50 131.47 L365.75 131.16 L366.00 130.51 L366.25 129.53 L366.50 128.22 L366.75 126.61 L367.00 124.71 L367.25 122.55 L367.50 120.16 L367.75 117.56 L368.00 114.78 L368.25 111.86 L368.50 108.84 L368.75 105.75 L369.00 102.63 L369.25 99.51 L369.50 96.44 L369.75 93.46 L370.00 90.59 L370.25 87.88 L370.50 85.36 L370.75 83.05 L371.00 81.00 L371.25 79.21 L371.50 77.72 L371.75 76.54 L372.00 75.69 L372.25 75.17 L372.50 75.00 L372.75 75.24 L373.00 75.96 L373.25 77.14 L373.50 78.78 L373.75 80.86 L374.00 83.35 L374.25 86.23 L374.50 89.46 L374.75 93.00 L375.00 96.82 L375.25 100.88 L375.50 105.13 L375.75 109.51 L376.00 113.99 L376.25 118.50 L376.50 123.01 L376.75 127.46 L377.00 131.79 L377.25 135.97 L377.50 139.94 L377.75 143.65 L378.00 147.08 L378.25 150.17 L378.50 152.89 L378.75 155.22 L379.00 157.13 L379.25 158.59 L379.50 159.59 L379.75 160.11 L380.00 160.15 L380.25 159.63 L380.50 158.52 L380.75 156.84 L381.00 154.62 L381.25 151.87 L381.50 148.62 L381.75 144.93 L382.00 140.81 L382.25 136.33 L382.50 131.53 L382.75 126.46 L383.00 121.19 L383.25 115.77 L383.50 110.26 L383.75 104.73 L384.00 99.24 L384.25 93.84 L384.50 88.61 L384.75 83.59 L385.00 78.85 L385.25 74.43 L385.50 70.40 L385.75 66.79 L386.00 63.64 L386.25 61.00 L386.50 58.88 L386.75 57.32 L387.00 56.32 L387.25 55.91 L387.50 56.06 L387.75 56.70 L388.00 57.83 L388.25 59.44 L388.50 61.51 L388.75 64.02 L389.00 66.93 L389.25 70.23 L389.50 73.88 L389.75 77.83 L390.00 82.06 L390.25 86.51 L390.50 91.13 L390.75 95.89 L391.00 100.73 L391.25 105.60 L391.50 110.45 L391.75 115.22 L392.00 119.88 L392.25 124.37 L392.50 128.64 L392.75 132.65 L393.00 136.37 L393.25 139.74 L393.50 142.73 L393.75 145.32 L394.00 147.48 L394.25 149.18 L394.50 150.41 L394.75 151.15 L395.00 151.40 L395.25 151.18 L395.50 150.52 L395.75 149.43 L396.00 147.92 L396.25 146.01 L396.50 143.73 L396.75 141.11 L397.00 138.17 L397.25 134.97 L397.50 131.54 L397.75 127.92 L398.00 124.16 L398.25 120.31 L398.50 116.42 L398.75 112.54 L399.00 108.72 L399.25 105.02 L399.50 101.47 L399.75 98.12 L400.00 95.02 L400.25 92.21 L400.50 89.72 L400.75 87.58 L401.00 85.83 L401.25 84.49 L401.50 83.57 L401.75 83.08 L402.00 83.04 L402.25 83.43 L402.50 84.27 L402.75 85.53 L403.00 87.18 L403.25 89.20 L403.50 91.55 L403.75 94.19 L404.00 97.07 L404.25 100.13 L404.50 103.33 L404.75 106.59 L405.00 109.87 L405.25 113.10 L405.50 116.23 L405.75 119.18 L406.00 121.93 L406.25 124.40 L406.50 126.56 L406.75 128.36 L407.00 129.78 L407.25 130.78 L407.50 131.36 L407.75 131.49 L408.00 131.24 L408.25 130.62 L408.50 129.65 L408.75 128.33 L409.00 126.69 L409.25 124.75 L409.50 122.53 L409.75 120.06 L410.00 117.37 L410.25 114.50 L410.50 111.49 L410.75 108.37 L411.00 105.18 L411.25 101.96 L411.50 98.77 L411.75 95.63 L412.00 92.59 L412.25 89.69 L412.50 86.96 L412.75 84.44 L413.00 82.17 L413.25 80.17 L413.50 78.47 L413.75 77.09 L414.00 76.05 L414.25 75.36 L414.50 75.03 L414.75 75.09 L415.00 75.61 L415.25 76.61 L415.50 78.07 L415.75 79.98 L416.00 82.31 L416.25 85.03 L416.50 88.12 L416.75 91.55 L417.00 95.26 L417.25 99.23 L417.50 103.41 L417.75 107.74 L418.00 112.19 L418.25 116.70 L418.50 121.21 L418.75 125.69 L419.00 130.07 L419.25 134.32 L419.50 138.38 L419.75 142.20 L420.00 145.74 L420.25 148.97 L420.50 151.85 L420.75 154.34 L421.00 156.42 L421.25 158.06 L421.50 159.24 L421.75 159.96 L422.00 160.20 L422.25 159.91 L422.50 159.03 L422.75 157.58 L423.00 155.57 L423.25 153.03 L423.50 149.98 L423.75 146.46 L424.00 142.50 L424.25 138.16 L424.50 133.48 L424.75 128.52 L425.00 123.32 L425.25 117.95 L425.50 112.47 L425.75 106.94 L426.00 101.43 L426.25 95.98 L426.50 90.68 L426.75 85.57 L427.00 80.71 L427.25 76.16 L427.50 71.97 L427.75 68.18 L428.00 64.84 L428.25 61.99 L428.50 59.66 L428.75 57.87 L429.00 56.65 L429.25 56.01 L429.50 55.94 L429.75 56.39 L430.00 57.32 L430.25 58.74 L430.50 60.63 L430.75 62.96 L431.00 65.72 L431.25 68.87 L431.50 72.38 L431.75 76.22 L432.00 80.34 L432.25 84.70 L432.50 89.27 L432.75 93.98 L433.00 98.79 L433.25 103.65 L433.50 108.51 L433.75 113.32 L434.00 118.03 L434.25 122.60 L434.50 126.96 L434.75 131.08 L435.00 134.92 L435.25 138.43 L435.50 141.58 L435.75 144.34 L436.00 146.67 L436.25 148.56 L436.50 149.98 L436.75 150.91 L437.00 151.36 L437.25 151.32 L437.50 150.83 L437.75 149.91 L438.00 148.57 L438.25 146.82 L438.50 144.68 L438.75 142.19 L439.00 139.38 L439.25 136.28 L439.50 132.93 L439.75 129.38 L440.00 125.68 L440.25 121.86 L440.50 117.98 L440.75 114.09 L441.00 110.24 L441.25 106.48 L441.50 102.86 L441.75 99.43 L442.00 96.23 L442.25 93.29 L442.50 90.67 L442.75 88.39 L443.00 86.48 L443.25 84.97 L443.50 83.88 L443.75 83.22 L444.00 83.00 L444.25 83.22 L444.50 83.88 L444.75 84.97 L445.00 86.47 L445.25 88.35 L445.50 90.57 L445.75 93.10 L446.00 95.89 L446.25 98.89 L446.50 102.04 L446.75 105.28 L447.00 108.56 L447.25 111.82 L447.50 114.99 L447.75 118.02 L448.00 120.86 L448.25 123.44 L448.50 125.73 L448.75 127.68 L449.00 129.26 L449.25 130.43 L449.50 131.18 L449.75 131.49 L450.00 131.38 L450.25 130.89 L450.50 130.04 L450.75 128.82 L451.00 127.27 L451.25 125.39 L451.50 123.23 L451.75 120.79 L452.00 118.12 L452.25 115.25 L452.50 112.23 L452.75 109.08 L453.00 105.86 L453.25 102.60 L453.50 99.35 L453.75 96.15 L454.00 93.04 L454.25 90.08 L454.50 87.28 L454.75 84.71 L455.00 82.37 L455.25 80.32 L455.50 78.57 L455.75 77.15 L456.00 76.08 L456.25 75.37 L456.50 75.03 L456.75 75.09 L457.00 75.61 L457.25 76.61 L457.50 78.07 L457.75 79.98 L458.00 82.31 L458.25 85.03 L458.50 88.12 L458.75 91.55 L459.00 95.26 L459.25 99.23 L459.50 103.41 L459.75 107.74 L460.00 112.19 L460.25 116.70 L460.50 121.21 L460.75 125.69 L461.00 130.07 L461.25 134.32 L461.50 138.38 L461.75 142.20 L462.00 145.74 L462.25 148.97 L462.50 151.85 L462.75 154.34 L463.00 156.42 L463.25 158.06 L463.50 159.24 L463.75 159.96 L464.00 160.20 L464.25 159.91 L464.50 159.03 L464.75 157.58 L465.00 155.57 L465.25 153.03 L465.50 149.98 L465.75 146.46 L466.00 142.50 L466.25 138.16 L466.50 133.48 L466.75 128.52 L467.00 123.32 L467.25 117.95 L467.50 112.47 L467.75 106.94 L468.00 101.43 L468.25 95.98 L468.50 90.68 L468.75 85.57 L469.00 80.71 L469.25 76.16 L469.50 71.97 L469.75 68.18 L470.00 64.84 L470.25 61.99 L470.50 59.66 L470.75 57.87 L471.00 56.65 L471.25 56.01 L471.50 55.94 L471.75 56.39 L472.00 57.32 L472.25 58.74 L472.50 60.63 L472.75 62.96 L473.00 65.72 L473.25 68.87 L473.50 72.38 L473.75 76.22 L474.00 80.34 L474.25 84.70 L474.50 89.27 L474.75 93.98 L475.00 98.79 L475.25 103.65 L475.50 108.51 L475.75 113.32 L476.00 118.03 L476.25 122.60 L476.50 126.96 L476.75 131.08 L477.00 134.92 L477.25 138.43 L477.50 141.58 L477.75 144.34 L478.00 146.67 L478.25 148.56 L478.50 149.98 L478.75 150.91 L479.00 151.36 L479.25 151.32 L479.50 150.83 L479.75 149.91 L480.00 148.57 L480.25 146.82 L480.50 144.68 L480.75 142.19 L481.00 139.38 L481.25 136.28 L481.50 132.93 L481.75 129.38 L482.00 125.68 L482.25 121.86 L482.50 117.98 L482.75 114.09 L483.00 110.24 L483.25 106.48 L483.50 102.86 L483.75 99.43 L484.00 96.23 L484.25 93.29 L484.50 90.67 L484.75 88.39 L485.00 86.48 L485.25 84.97 L485.50 83.88 L485.75 83.22 L486.00 83.00 L486.25 83.22 L486.50 83.88 L486.75 84.97 L487.00 86.47 L487.25 88.35 L487.50 90.57 L487.75 93.10 L488.00 95.89 L488.25 98.89 L488.50 102.04 L488.75 105.28 L489.00 108.56 L489.25 111.82 L489.50 114.99 L489.75 118.02 L490.00 120.86 L490.25 123.44 L490.50 125.73 L490.75 127.68 L491.00 129.26 L491.25 130.43 L491.50 131.18 L491.75 131.49 L492.00 131.39 L492.25 130.93 L492.50 130.12 L492.75 128.97 L493.00 127.50 L493.25 125.73 L493.50 123.67 L493.75 121.35 L494.00 118.81 L494.25 116.08 L494.50 113.18 L494.75 110.15 L495.00 107.04 L495.25 103.88 L495.50 100.72 L495.75 97.58 L496.00 94.52 L496.25 91.57 L496.50 88.76 L496.75 86.14 L497.00 83.73 L497.25 81.56 L497.50 79.67 L497.75 78.08 L498.00 76.80 L498.25 75.86 L498.50 75.26 L498.75 75.01 L499.00 75.15 L499.25 75.78 L499.50 76.87 L499.75 78.42 L500.00 80.41 L500.25 82.82 L500.50 85.62 L500.75 88.78 L501.00 92.27 L501.25 96.04 L501.50 100.05 L501.75 104.26 L502.00 108.63 L502.25 113.09 L502.50 117.60 L502.75 122.11 L503.00 126.57 L503.25 130.94 L503.50 135.15 L503.75 139.16 L504.00 142.93 L504.25 146.42 L504.50 149.58 L504.75 152.38 L505.00 154.79 L505.25 156.78 L505.50 158.33 L505.75 159.42 L506.00 160.05 L506.25 160.19 L506.50 159.78 L506.75 158.78 L507.00 157.22 L507.25 155.10 L507.50 152.46 L507.75 149.31 L508.00 145.70 L508.25 141.67 L508.50 137.25 L508.75 132.51 L509.00 127.49 L509.25 122.26 L509.50 116.86 L509.75 111.37 L510.00 105.84 L510.25 100.33 L510.50 94.91 L510.75 89.64 L511.00 84.57 L511.25 79.77 L511.50 75.29 L511.75 71.17 L512.00 67.48 L512.25 64.23 L512.50 61.48 L512.75 59.26 L513.00 57.58 L513.25 56.47 L513.50 55.95 L513.75 55.99 L514.00 56.53 L514.25 57.57 L514.50 59.08 L514.75 61.06 L515.00 63.48 L515.25 66.32 L515.50 69.54 L515.75 73.12 L516.00 77.02 L516.25 81.19 L516.50 85.60 L516.75 90.20 L517.00 94.93 L517.25 99.76 L517.50 104.62 L517.75 109.48 L518.00 114.28 L518.25 118.96 L518.50 123.49 L518.75 127.81 L519.00 131.87 L519.25 135.65 L519.50 139.09 L519.75 142.17 L520.00 144.84 L520.25 147.08 L520.50 148.88 L520.75 150.20 L521.00 151.04 L521.25 151.39 L521.50 151.26 L521.75 150.68 L522.00 149.68 L522.25 148.25 L522.50 146.42 L522.75 144.21 L523.00 141.66 L523.25 138.78 L523.50 135.63 L523.75 132.24 L524.00 128.65 L524.25 124.92 L524.50 121.08 L524.75 117.20 L525.00 113.32 L525.25 109.48 L525.50 105.75 L525.75 102.16 L526.00 98.77 L526.25 95.62 L526.50 92.74 L526.75 90.19 L527.00 87.98 L527.25 86.15 L527.50 84.72 L527.75 83.72 L528.00 83.14 L528.25 83.01 L528.50 83.32 L528.75 84.07 L529.00 85.24 L529.25 86.82 L529.50 88.77 L529.75 91.06 L530.00 93.64 L530.25 96.48 L530.50 99.51 L530.75 102.68 L531.00 105.94 L531.25 109.22 L531.50 112.46 L531.75 115.61 L532.00 118.61 L532.25 121.40 L532.50 123.93 L532.75 126.15 L533.00 128.03 L533.25 129.53 L533.50 130.62 L533.75 131.28 L534.00 131.50 L534.25 131.32 L534.50 130.78" stroke="#2496d9" stroke-width="1.15" fill="none" stroke-linejoin="round" clip-path="url(#cb)"/>
<path d="M327.50 97.26 L327.75 95.05 L328.00 93.10 L328.25 91.44 L328.50 90.08 L328.75 89.05 L329.00 88.34 L329.25 87.96 L329.50 87.95 L329.75 88.47 L330.00 89.58 L330.25 91.24 L330.50 93.45 L330.75 96.18 L331.00 99.38 L331.25 103.03 L331.50 107.07 L331.75 111.45 L332.00 116.12 L332.25 121.03 L332.50 126.10 L332.75 131.27 L333.00 136.49 L333.25 141.67 L333.50 146.77 L333.75 151.71 L334.00 156.43 L334.25 160.88 L334.50 164.99 L334.75 168.72 L335.00 172.02 L335.25 174.84 L335.50 177.16 L335.75 178.94 L336.00 180.15 L336.25 180.79 L336.50 180.85 L336.75 180.35 L337.00 179.29 L337.25 177.68 L337.50 175.55 L337.75 172.90 L338.00 169.79 L338.25 166.23 L338.50 162.26 L338.75 157.93 L339.00 153.28 L339.25 148.37 L339.50 143.24 L339.75 137.95 L340.00 132.55 L340.25 127.11 L340.50 121.68 L340.75 116.32 L341.00 111.09 L341.25 106.04 L341.50 101.22 L341.75 96.70 L342.00 92.51 L342.25 88.70 L342.50 85.31 L342.75 82.38 L343.00 79.94 L343.25 78.01 L343.50 76.62 L343.75 75.78 L344.00 75.50 L344.25 75.71 L344.50 76.34 L344.75 77.38 L345.00 78.83 L345.25 80.67 L345.50 82.88 L345.75 85.44 L346.00 88.33 L346.25 91.52 L346.50 94.98 L346.75 98.68 L347.00 102.59 L347.25 106.66 L347.50 110.86 L347.75 115.14 L348.00 119.48 L348.25 123.83 L348.50 128.14 L348.75 132.38 L349.00 136.50 L349.25 140.48 L349.50 144.26 L349.75 147.83 L350.00 151.13 L350.25 154.14 L350.50 156.84 L350.75 159.19 L351.00 161.18 L351.25 162.78 L351.50 163.99 L351.75 164.79 L352.00 165.17 L352.25 165.11 L352.50 164.58 L352.75 163.57 L353.00 162.11 L353.25 160.21 L353.50 157.90 L353.75 155.23 L354.00 152.23 L354.25 148.96 L354.50 145.46 L354.75 141.79 L355.00 138.01 L355.25 134.18 L355.50 130.37 L355.75 126.63 L356.00 123.02 L356.25 119.60 L356.50 116.43 L356.75 113.56 L357.00 111.03 L357.25 108.88 L357.50 107.15 L357.75 105.87 L358.00 105.05 L358.25 104.71 L358.50 104.85 L358.75 105.46 L359.00 106.52 L359.25 108.02 L359.50 109.93 L359.75 112.20 L360.00 114.79 L360.25 117.66 L360.50 120.74 L360.75 123.98 L361.00 127.31 L361.25 130.66 L361.50 133.98 L361.75 137.19 L362.00 140.24 L362.25 143.05 L362.50 145.59 L362.75 147.79 L363.00 149.61 L363.25 151.03 L363.50 152.00 L363.75 152.52 L364.00 152.57 L364.25 152.28 L364.50 151.66 L364.75 150.72 L365.00 149.48 L365.25 147.93 L365.50 146.11 L365.75 144.03 L366.00 141.70 L366.25 139.16 L366.50 136.42 L366.75 133.53 L367.00 130.49 L367.25 127.36 L367.50 124.15 L367.75 120.90 L368.00 117.65 L368.25 114.42 L368.50 111.25 L368.75 108.17 L369.00 105.22 L369.25 102.41 L369.50 99.79 L369.75 97.38 L370.00 95.19 L370.25 93.26 L370.50 91.61 L370.75 90.24 L371.00 89.18 L371.25 88.43 L371.50 88.00 L371.75 87.91 L372.00 88.32 L372.25 89.31 L372.50 90.87 L372.75 92.97 L373.00 95.59 L373.25 98.70 L373.50 102.27 L373.75 106.23 L374.00 110.55 L374.25 115.17 L374.50 120.03 L374.75 125.07 L375.00 130.23 L375.25 135.44 L375.50 140.64 L375.75 145.76 L376.00 150.74 L376.25 155.51 L376.50 160.02 L376.75 164.20 L377.00 168.01 L377.25 171.40 L377.50 174.32 L377.75 176.74 L378.00 178.62 L378.25 179.95 L378.50 180.71 L378.75 180.89 L379.00 180.50 L379.25 179.54 L379.50 178.04 L379.75 176.01 L380.00 173.47 L380.25 170.45 L380.50 166.97 L380.75 163.08 L381.00 158.82 L381.25 154.23 L381.50 149.37 L381.75 144.28 L382.00 139.01 L382.25 133.64 L382.50 128.20 L382.75 122.76 L383.00 117.39 L383.25 112.12 L383.50 107.03 L383.75 102.17 L384.00 97.58 L384.25 93.32 L384.50 89.43 L384.75 85.95 L385.00 82.93 L385.25 80.39 L385.50 78.36 L385.75 76.86 L386.00 75.90 L386.25 75.51 L386.50 75.63 L386.75 76.18 L387.00 77.14 L387.25 78.51 L387.50 80.27 L387.75 82.41 L388.00 84.90 L388.25 87.73 L388.50 90.86 L388.75 94.27 L389.00 97.92 L389.25 101.79 L389.50 105.83 L389.75 110.01 L390.00 114.28 L390.25 118.61 L390.50 122.96 L390.75 127.28 L391.00 131.54 L391.25 135.69 L391.50 139.70 L391.75 143.52 L392.00 147.13 L392.25 150.49 L392.50 153.56 L392.75 156.33 L393.00 158.75 L393.25 160.81 L393.50 162.50 L393.75 163.78 L394.00 164.66 L394.25 165.12 L394.50 165.16 L394.75 164.73 L395.00 163.81 L395.25 162.44 L395.50 160.62 L395.75 158.39 L396.00 155.79 L396.25 152.85 L396.50 149.63 L396.75 146.17 L397.00 142.53 L397.25 138.77 L397.50 134.95 L397.75 131.13 L398.00 127.37 L398.25 123.73 L398.50 120.27 L398.75 117.05 L399.00 114.11 L399.25 111.51 L399.50 109.28 L399.75 107.46 L400.00 106.09 L400.25 105.17 L400.50 104.74 L400.75 104.78 L401.00 105.30 L401.25 106.27 L401.50 107.69 L401.75 109.51 L402.00 111.71 L402.25 114.25 L402.50 117.06 L402.75 120.11 L403.00 123.32 L403.25 126.64 L403.50 129.99 L403.75 133.32 L404.00 136.56 L404.25 139.64 L404.50 142.51 L404.75 145.10 L405.00 147.37 L405.25 149.28 L405.50 150.78 L405.75 151.84 L406.00 152.45 L406.25 152.59 L406.50 152.35 L406.75 151.77 L407.00 150.85 L407.25 149.60 L407.50 148.04 L407.75 146.18 L408.00 144.05 L408.25 141.66 L408.50 139.05 L408.75 136.23 L409.00 133.24 L409.25 130.12 L409.50 126.89 L409.75 123.59 L410.00 120.25 L410.25 116.91 L410.50 113.61 L410.75 110.38 L411.00 107.26 L411.25 104.27 L411.50 101.45 L411.75 98.84 L412.00 96.45 L412.25 94.32 L412.50 92.46 L412.75 90.90 L413.00 89.65 L413.25 88.73 L413.50 88.15 L413.75 87.91 L414.00 88.09 L414.25 88.85 L414.50 90.18 L414.75 92.06 L415.00 94.48 L415.25 97.40 L415.50 100.79 L415.75 104.60 L416.00 108.78 L416.25 113.29 L416.50 118.06 L416.75 123.04 L417.00 128.16 L417.25 133.36 L417.50 138.57 L417.75 143.73 L418.00 148.77 L418.25 153.63 L418.50 158.25 L418.75 162.57 L419.00 166.53 L419.25 170.10 L419.50 173.21 L419.75 175.83 L420.00 177.93 L420.25 179.49 L420.50 180.48 L420.75 180.89 L421.00 180.72 L421.25 179.99 L421.50 178.71 L421.75 176.89 L422.00 174.55 L422.25 171.71 L422.50 168.41 L422.75 164.69 L423.00 160.57 L423.25 156.11 L423.50 151.35 L423.75 146.34 L424.00 141.14 L424.25 135.80 L424.50 130.38 L424.75 124.93 L425.00 119.53 L425.25 114.21 L425.50 109.04 L425.75 104.08 L426.00 99.38 L426.25 94.98 L426.50 90.94 L426.75 87.29 L427.00 84.08 L427.25 81.34 L427.50 79.11 L427.75 77.39 L428.00 76.22 L428.25 75.60 L428.50 75.53 L428.75 75.91 L429.00 76.71 L429.25 77.92 L429.50 79.52 L429.75 81.51 L430.00 83.86 L430.25 86.56 L430.50 89.57 L430.75 92.87 L431.00 96.44 L431.25 100.22 L431.50 104.20 L431.75 108.32 L432.00 112.56 L432.25 116.87 L432.50 121.22 L432.75 125.56 L433.00 129.84 L433.25 134.04 L433.50 138.11 L433.75 142.02 L434.00 145.72 L434.25 149.18 L434.50 152.37 L434.75 155.26 L435.00 157.82 L435.25 160.03 L435.50 161.87 L435.75 163.32 L436.00 164.36 L436.25 164.99 L436.50 165.20 L436.75 164.96 L437.00 164.23 L437.25 163.04 L437.50 161.40 L437.75 159.33 L438.00 156.87 L438.25 154.07 L438.50 150.95 L438.75 147.58 L439.00 144.01 L439.25 140.29 L439.50 136.48 L439.75 132.65 L440.00 128.86 L440.25 125.17 L440.50 121.63 L440.75 118.30 L441.00 115.25 L441.25 112.50 L441.50 110.12 L441.75 108.14 L442.00 106.58 L442.25 105.48 L442.50 104.86 L442.75 104.71 L443.00 105.04 L443.25 105.83 L443.50 107.07 L443.75 108.74 L444.00 110.79 L444.25 113.20 L444.50 115.91 L444.75 118.87 L445.00 122.02 L445.25 125.30 L445.50 128.65 L445.75 132.00 L446.00 135.28 L446.25 138.43 L446.50 141.39 L446.75 144.10 L447.00 146.51 L447.25 148.56 L447.50 150.23 L447.75 151.47 L448.00 152.26 L448.25 152.59 L448.50 152.49 L448.75 152.03 L449.00 151.22 L449.25 150.07 L449.50 148.60 L449.75 146.81 L450.00 144.74 L450.25 142.40 L450.50 139.81 L450.75 137.01 L451.00 134.02 L451.25 130.89 L451.50 127.64 L451.75 124.30 L452.00 120.93 L452.25 117.54 L452.50 114.19 L452.75 110.90 L453.00 107.71 L453.25 104.67 L453.50 101.79 L453.75 99.11 L454.00 96.67 L454.25 94.48 L454.50 92.58 L454.75 90.98 L455.00 89.70 L455.25 88.75 L455.50 88.16 L455.75 87.91 L456.00 88.09 L456.25 88.85 L456.50 90.18 L456.75 92.06 L457.00 94.48 L457.25 97.40 L457.50 100.79 L457.75 104.60 L458.00 108.78 L458.25 113.29 L458.50 118.06 L458.75 123.04 L459.00 128.16 L459.25 133.36 L459.50 138.57 L459.75 143.73 L460.00 148.77 L460.25 153.63 L460.50 158.25 L460.75 162.57 L461.00 166.53 L461.25 170.10 L461.50 173.21 L461.75 175.83 L462.00 177.93 L462.25 179.49 L462.50 180.48 L462.75 180.89 L463.00 180.72 L463.25 179.99 L463.50 178.71 L463.75 176.89 L464.00 174.55 L464.25 171.71 L464.50 168.41 L464.75 164.69 L465.00 160.57 L465.25 156.11 L465.50 151.35 L465.75 146.34 L466.00 141.14 L466.25 135.80 L466.50 130.38 L466.75 124.93 L467.00 119.53 L467.25 114.21 L467.50 109.04 L467.75 104.08 L468.00 99.38 L468.25 94.98 L468.50 90.94 L468.75 87.29 L469.00 84.08 L469.25 81.34 L469.50 79.11 L469.75 77.39 L470.00 76.22 L470.25 75.60 L470.50 75.53 L470.75 75.91 L471.00 76.71 L471.25 77.92 L471.50 79.52 L471.75 81.51 L472.00 83.86 L472.25 86.56 L472.50 89.57 L472.75 92.87 L473.00 96.44 L473.25 100.22 L473.50 104.20 L473.75 108.32 L474.00 112.56 L474.25 116.87 L474.50 121.22 L474.75 125.56 L475.00 129.84 L475.25 134.04 L475.50 138.11 L475.75 142.02 L476.00 145.72 L476.25 149.18 L476.50 152.37 L476.75 155.26 L477.00 157.82 L477.25 160.03 L477.50 161.87 L477.75 163.32 L478.00 164.36 L478.25 164.99 L478.50 165.20 L478.75 164.96 L479.00 164.23 L479.25 163.04 L479.50 161.40 L479.75 159.33 L480.00 156.87 L480.25 154.07 L480.50 150.95 L480.75 147.58 L481.00 144.01 L481.25 140.29 L481.50 136.48 L481.75 132.65 L482.00 128.86 L482.25 125.17 L482.50 121.63 L482.75 118.30 L483.00 115.25 L483.25 112.50 L483.50 110.12 L483.75 108.14 L484.00 106.58 L484.25 105.48 L484.50 104.86 L484.75 104.71 L485.00 105.04 L485.25 105.83 L485.50 107.07 L485.75 108.74 L486.00 110.79 L486.25 113.20 L486.50 115.91 L486.75 118.87 L487.00 122.02 L487.25 125.30 L487.50 128.65 L487.75 132.00 L488.00 135.28 L488.25 138.43 L488.50 141.39 L488.75 144.10 L489.00 146.51 L489.25 148.56 L489.50 150.23 L489.75 151.47 L490.00 152.26 L490.25 152.59 L490.50 152.49 L490.75 152.06 L491.00 151.29 L491.25 150.20 L491.50 148.80 L491.75 147.10 L492.00 145.13 L492.25 142.89 L492.50 140.42 L492.75 137.74 L493.00 134.88 L493.25 131.86 L493.50 128.73 L493.75 125.51 L494.00 122.23 L494.25 118.93 L494.50 115.65 L494.75 112.41 L495.00 109.25 L495.25 106.21 L495.50 103.32 L495.75 100.60 L496.00 98.09 L496.25 95.80 L496.50 93.77 L496.75 92.02 L497.00 90.56 L497.25 89.40 L497.50 88.57 L497.75 88.07 L498.00 87.90 L498.25 88.19 L498.50 89.07 L498.75 90.51 L499.00 92.50 L499.25 95.03 L499.50 98.04 L499.75 101.52 L500.00 105.41 L500.25 109.66 L500.50 114.22 L500.75 119.04 L501.00 124.05 L501.25 129.19 L501.50 134.40 L501.75 139.61 L502.00 144.75 L502.25 149.76 L502.50 154.58 L502.75 159.14 L503.00 163.39 L503.25 167.28 L503.50 170.76 L503.75 173.77 L504.00 176.30 L504.25 178.29 L504.50 179.73 L504.75 180.61 L505.00 180.90 L505.25 180.62 L505.50 179.78 L505.75 178.39 L506.00 176.46 L506.25 174.02 L506.50 171.09 L506.75 167.70 L507.00 163.89 L507.25 159.70 L507.50 155.18 L507.75 150.36 L508.00 145.31 L508.25 140.08 L508.50 134.72 L508.75 129.29 L509.00 123.85 L509.25 118.45 L509.50 113.16 L509.75 108.03 L510.00 103.12 L510.25 98.47 L510.50 94.14 L510.75 90.17 L511.00 86.61 L511.25 83.50 L511.50 80.85 L511.75 78.72 L512.00 77.11 L512.25 76.05 L512.50 75.55 L512.75 75.58 L513.00 76.04 L513.25 76.92 L513.50 78.20 L513.75 79.89 L514.00 81.95 L514.25 84.37 L514.50 87.14 L514.75 90.21 L515.00 93.57 L515.25 97.18 L515.50 101.00 L515.75 105.01 L516.00 109.16 L516.25 113.42 L516.50 117.74 L516.75 122.09 L517.00 126.42 L517.25 130.69 L517.50 134.87 L517.75 138.91 L518.00 142.77 L518.25 146.43 L518.50 149.84 L518.75 152.97 L519.00 155.80 L519.25 158.29 L519.50 160.43 L519.75 162.19 L520.00 163.56 L520.25 164.52 L520.50 165.07 L520.75 165.19 L521.00 164.85 L521.25 164.03 L521.50 162.75 L521.75 161.02 L522.00 158.87 L522.25 156.34 L522.50 153.47 L522.75 150.30 L523.00 146.88 L523.25 143.27 L523.50 139.53 L523.75 135.72 L524.00 131.89 L524.25 128.11 L524.50 124.44 L524.75 120.94 L525.00 117.67 L525.25 114.67 L525.50 112.00 L525.75 109.69 L526.00 107.79 L526.25 106.33 L526.50 105.32 L526.75 104.79 L527.00 104.74 L527.25 105.16 L527.50 106.04 L527.75 107.37 L528.00 109.12 L528.25 111.25 L528.50 113.72 L528.75 116.48 L529.00 119.48 L529.25 122.67 L529.50 125.97 L529.75 129.32 L530.00 132.66 L530.25 135.92 L530.50 139.04 L530.75 141.96 L531.00 144.61 L531.25 146.95 L531.50 148.93 L531.75 150.51 L532.00 151.66 L532.25 152.36 L532.50 152.60 L532.75 152.43 L533.00 151.92 L533.25 151.08 L533.50 149.91 L533.75 148.43 L534.00 146.65 L534.25 144.60 L534.50 142.29 L534.75 139.75 L535.00 137.00 L535.25 134.07 L535.50 131.00 L535.75 127.82 L536.00 124.55 L536.25 121.25 L536.50 117.93 L536.75 114.63 L537.00 111.40 L537.25 108.25 L537.50 105.24 L537.75 102.38 L538.00 99.71 L538.25 97.26 L538.50 95.05 L538.75 93.10" stroke="#f27b4d" stroke-width="1.15" fill="none" stroke-linejoin="round" clip-path="url(#cb)"/>
<rect x="327.50" y="24.00" width="215.10" height="169.70" fill="none" stroke="#9a9a9a" stroke-width="1.05"/>
<path d="M370.43 193.70V191.50M370.43 24.00V26.20M412.57 193.70V191.50M412.57 24.00V26.20M454.71 193.70V191.50M454.71 24.00V26.20M496.85 193.70V191.50M496.85 24.00V26.20M538.99 193.70V191.50M538.99 24.00V26.20M327.50 182.65H329.70M542.60 182.65H540.40M327.50 152.50H329.70M542.60 152.50H540.40M327.50 122.35H329.70M542.60 122.35H540.40M327.50 92.20H329.70M542.60 92.20H540.40M327.50 62.05H329.70M542.60 62.05H540.40M327.50 31.90H329.70M542.60 31.90H540.40" stroke="#9a9a9a" stroke-width="1.05" fill="none"/>
<text transform="translate(292.17 186.89) scale(1.040 1)" font-size="10.60" text-anchor="start" fill="#2e2e2e" stroke="#2e2e2e" stroke-width="0.15">−6000</text>
<text transform="translate(292.17 156.74) scale(1.040 1)" font-size="10.60" text-anchor="start" fill="#2e2e2e" stroke="#2e2e2e" stroke-width="0.15">−4000</text>
<text transform="translate(292.17 126.59) scale(1.040 1)" font-size="10.60" text-anchor="start" fill="#2e2e2e" stroke="#2e2e2e" stroke-width="0.15">−2000</text>
<text transform="translate(317.00 96.44) scale(1.040 1)" font-size="10.60" text-anchor="start" fill="#2e2e2e" stroke="#2e2e2e" stroke-width="0.15">0</text>
<text transform="translate(298.61 66.29) scale(1.040 1)" font-size="10.60" text-anchor="start" fill="#2e2e2e" stroke="#2e2e2e" stroke-width="0.15">2000</text>
<text transform="translate(298.61 36.14) scale(1.040 1)" font-size="10.60" text-anchor="start" fill="#2e2e2e" stroke="#2e2e2e" stroke-width="0.15">4000</text>
<text transform="translate(325.23 208.80) scale(1.040 1)" font-size="10.60" text-anchor="start" fill="#2e2e2e" stroke="#2e2e2e" stroke-width="0.15">0</text>
<text transform="translate(364.24 208.80) scale(1.040 1)" font-size="10.60" text-anchor="start" fill="#2e2e2e" stroke="#2e2e2e" stroke-width="0.15">20</text>
<text transform="translate(406.53 208.80) scale(1.040 1)" font-size="10.60" text-anchor="start" fill="#2e2e2e" stroke="#2e2e2e" stroke-width="0.15">40</text>
<text transform="translate(448.51 208.80) scale(1.040 1)" font-size="10.60" text-anchor="start" fill="#2e2e2e" stroke="#2e2e2e" stroke-width="0.15">60</text>
<text transform="translate(490.70 208.80) scale(1.040 1)" font-size="10.60" text-anchor="start" fill="#2e2e2e" stroke="#2e2e2e" stroke-width="0.15">80</text>
<text transform="translate(529.59 208.80) scale(1.040 1)" font-size="10.60" text-anchor="start" fill="#2e2e2e" stroke="#2e2e2e" stroke-width="0.15">100</text>
<g transform="translate(529.59 208.80) scale(1.040 1)" fill="#fff"><rect x="0.457" y="-0.912" width="2.188" height="1.292"/><rect x="3.622" y="-0.912" width="2.105" height="1.292"/></g>
<text transform="translate(408.89 224.30) scale(1.003 1)" font-size="12.00" text-anchor="start" fill="#2e2e2e" stroke="#2e2e2e" stroke-width="0.15">Time (ms)</text>
<rect x="402.6" y="29.3" width="134.6" height="14.7" fill="#fff" stroke="#9a9a9a" stroke-width="0.9"/>
<path d="M405.20000000000005 36.5H425.8" stroke="#2496d9" stroke-width="1.25"/>
<path d="M468.5 36.5H488.6" stroke="#f27b4d" stroke-width="1.25"/>
<text transform="translate(427.23 40.40) scale(1.035 1)" font-size="9.60" text-anchor="start" fill="#2e2e2e" stroke="#2e2e2e" stroke-width="0.15">Forward</text>
<text transform="translate(490.43 40.40) scale(1.038 1)" font-size="9.60" text-anchor="start" fill="#2e2e2e" stroke="#2e2e2e" stroke-width="0.15">Backward</text>
<rect x="52.50" y="231.80" width="218.40" height="173.70" fill="none" stroke="#9a9a9a" stroke-width="1.05"/>
<path d="M92.30 405.50V403.30M92.30 231.80V234.00M136.93 405.50V403.30M136.93 231.80V234.00M181.56 405.50V403.30M181.56 231.80V234.00M226.19 405.50V403.30M226.19 231.80V234.00M52.50 376.55H54.70M270.90 376.55H268.70M52.50 347.60H54.70M270.90 347.60H268.70M52.50 318.65H54.70M270.90 318.65H268.70M52.50 289.70H54.70M270.90 289.70H268.70M52.50 260.75H54.70M270.90 260.75H268.70" stroke="#9a9a9a" stroke-width="1.05" fill="none"/>
<path d="M52.5 405.5H270.9" stroke="#6b6b6b" stroke-width="1"/>
<circle cx="52.13" cy="405.27" r="2.15" fill="none" stroke="#3aa3d3" stroke-width="1.0"/>
<circle cx="56.60" cy="405.27" r="2.15" fill="none" stroke="#3aa3d3" stroke-width="1.0"/>
<circle cx="61.06" cy="405.27" r="2.15" fill="none" stroke="#3aa3d3" stroke-width="1.0"/>
<circle cx="65.52" cy="404.92" r="2.15" fill="none" stroke="#3aa3d3" stroke-width="1.0"/>
<circle cx="69.98" cy="405.27" r="2.15" fill="none" stroke="#3aa3d3" stroke-width="1.0"/>
<circle cx="74.45" cy="405.27" r="2.15" fill="none" stroke="#3aa3d3" stroke-width="1.0"/>
<circle cx="78.91" cy="405.27" r="2.15" fill="none" stroke="#3aa3d3" stroke-width="1.0"/>
<circle cx="83.37" cy="405.27" r="2.15" fill="none" stroke="#3aa3d3" stroke-width="1.0"/>
<circle cx="87.84" cy="405.27" r="2.15" fill="none" stroke="#3aa3d3" stroke-width="1.0"/>
<path d="M92.30 405.5V256.19" stroke="#62adcb" stroke-width="1.25"/>
<circle cx="92.30" cy="254.09" r="2.15" fill="none" stroke="#3aa3d3" stroke-width="1.0"/>
<circle cx="96.76" cy="405.27" r="2.15" fill="none" stroke="#3aa3d3" stroke-width="1.0"/>
<circle cx="101.23" cy="405.27" r="2.15" fill="none" stroke="#3aa3d3" stroke-width="1.0"/>
<circle cx="105.69" cy="405.27" r="2.15" fill="none" stroke="#3aa3d3" stroke-width="1.0"/>
<circle cx="110.15" cy="405.27" r="2.15" fill="none" stroke="#3aa3d3" stroke-width="1.0"/>
<path d="M114.61 405.5V343.39" stroke="#62adcb" stroke-width="1.25"/>
<circle cx="114.61" cy="341.29" r="2.15" fill="none" stroke="#3aa3d3" stroke-width="1.0"/>
<circle cx="119.08" cy="405.27" r="2.15" fill="none" stroke="#3aa3d3" stroke-width="1.0"/>
<circle cx="123.54" cy="405.27" r="2.15" fill="none" stroke="#3aa3d3" stroke-width="1.0"/>
<circle cx="128.00" cy="405.27" r="2.15" fill="none" stroke="#3aa3d3" stroke-width="1.0"/>
<circle cx="132.47" cy="405.27" r="2.15" fill="none" stroke="#3aa3d3" stroke-width="1.0"/>
<path d="M136.93 405.5V399.20" stroke="#62adcb" stroke-width="1.25"/>
<circle cx="136.93" cy="397.10" r="2.15" fill="none" stroke="#3aa3d3" stroke-width="1.0"/>
<circle cx="141.39" cy="405.27" r="2.15" fill="none" stroke="#3aa3d3" stroke-width="1.0"/>
<circle cx="145.86" cy="405.27" r="2.15" fill="none" stroke="#3aa3d3" stroke-width="1.0"/>
<circle cx="150.32" cy="405.27" r="2.15" fill="none" stroke="#3aa3d3" stroke-width="1.0"/>
<circle cx="154.78" cy="405.27" r="2.15" fill="none" stroke="#3aa3d3" stroke-width="1.0"/>
<circle cx="159.25" cy="405.27" r="2.15" fill="none" stroke="#3aa3d3" stroke-width="1.0"/>
<circle cx="163.71" cy="405.27" r="2.15" fill="none" stroke="#3aa3d3" stroke-width="1.0"/>
<circle cx="168.17" cy="405.27" r="2.15" fill="none" stroke="#3aa3d3" stroke-width="1.0"/>
<circle cx="172.63" cy="405.27" r="2.15" fill="none" stroke="#3aa3d3" stroke-width="1.0"/>
<circle cx="177.10" cy="405.27" r="2.15" fill="none" stroke="#3aa3d3" stroke-width="1.0"/>
<path d="M181.56 405.5V401.58" stroke="#62adcb" stroke-width="1.25"/>
<circle cx="181.56" cy="399.48" r="2.15" fill="none" stroke="#3aa3d3" stroke-width="1.0"/>
<circle cx="186.02" cy="405.27" r="2.15" fill="none" stroke="#3aa3d3" stroke-width="1.0"/>
<circle cx="190.49" cy="405.27" r="2.15" fill="none" stroke="#3aa3d3" stroke-width="1.0"/>
<circle cx="194.95" cy="405.27" r="2.15" fill="none" stroke="#3aa3d3" stroke-width="1.0"/>
<circle cx="199.41" cy="405.27" r="2.15" fill="none" stroke="#3aa3d3" stroke-width="1.0"/>
<circle cx="203.88" cy="405.27" r="2.15" fill="none" stroke="#3aa3d3" stroke-width="1.0"/>
<circle cx="208.34" cy="405.27" r="2.15" fill="none" stroke="#3aa3d3" stroke-width="1.0"/>
<circle cx="212.80" cy="405.27" r="2.15" fill="none" stroke="#3aa3d3" stroke-width="1.0"/>
<circle cx="217.26" cy="405.27" r="2.15" fill="none" stroke="#3aa3d3" stroke-width="1.0"/>
<circle cx="221.73" cy="405.27" r="2.15" fill="none" stroke="#3aa3d3" stroke-width="1.0"/>
<circle cx="226.19" cy="404.23" r="2.15" fill="none" stroke="#3aa3d3" stroke-width="1.0"/>
<circle cx="230.65" cy="405.27" r="2.15" fill="none" stroke="#3aa3d3" stroke-width="1.0"/>
<circle cx="235.12" cy="405.27" r="2.15" fill="none" stroke="#3aa3d3" stroke-width="1.0"/>
<circle cx="239.58" cy="405.27" r="2.15" fill="none" stroke="#3aa3d3" stroke-width="1.0"/>
<circle cx="244.04" cy="405.27" r="2.15" fill="none" stroke="#3aa3d3" stroke-width="1.0"/>
<circle cx="248.50" cy="405.27" r="2.15" fill="none" stroke="#3aa3d3" stroke-width="1.0"/>
<circle cx="252.97" cy="405.27" r="2.15" fill="none" stroke="#3aa3d3" stroke-width="1.0"/>
<circle cx="257.43" cy="405.27" r="2.15" fill="none" stroke="#3aa3d3" stroke-width="1.0"/>
<circle cx="261.89" cy="405.27" r="2.15" fill="none" stroke="#3aa3d3" stroke-width="1.0"/>
<circle cx="266.36" cy="405.27" r="2.15" fill="none" stroke="#3aa3d3" stroke-width="1.0"/>
<circle cx="270.82" cy="405.27" r="2.15" fill="none" stroke="#3aa3d3" stroke-width="1.0"/>
<text transform="translate(42.00 409.84) scale(1.040 1)" font-size="10.60" text-anchor="start" fill="#2e2e2e" stroke="#2e2e2e" stroke-width="0.15">0</text>
<text transform="translate(29.74 380.89) scale(1.040 1)" font-size="10.60" text-anchor="start" fill="#2e2e2e" stroke="#2e2e2e" stroke-width="0.15">500</text>
<text transform="translate(23.61 351.94) scale(1.040 1)" font-size="10.60" text-anchor="start" fill="#2e2e2e" stroke="#2e2e2e" stroke-width="0.15">1000</text>
<g transform="translate(23.61 351.94) scale(1.040 1)" fill="#fff"><rect x="0.457" y="-0.912" width="2.188" height="1.292"/><rect x="3.622" y="-0.912" width="2.105" height="1.292"/></g>
<text transform="translate(23.61 322.99) scale(1.040 1)" font-size="10.60" text-anchor="start" fill="#2e2e2e" stroke="#2e2e2e" stroke-width="0.15">1500</text>
<g transform="translate(23.61 322.99) scale(1.040 1)" fill="#fff"><rect x="0.457" y="-0.912" width="2.188" height="1.292"/><rect x="3.622" y="-0.912" width="2.105" height="1.292"/></g>
<text transform="translate(23.61 294.04) scale(1.040 1)" font-size="10.60" text-anchor="start" fill="#2e2e2e" stroke="#2e2e2e" stroke-width="0.15">2000</text>
<text transform="translate(23.61 265.09) scale(1.040 1)" font-size="10.60" text-anchor="start" fill="#2e2e2e" stroke="#2e2e2e" stroke-width="0.15">2500</text>
<text transform="translate(23.61 236.14) scale(1.040 1)" font-size="10.60" text-anchor="start" fill="#2e2e2e" stroke="#2e2e2e" stroke-width="0.15">3000</text>
<text transform="translate(57.14 417.00) scale(1.040 1)" font-size="10.60" text-anchor="start" fill="#2e2e2e" stroke="#2e2e2e" stroke-width="0.15">0</text>
<text transform="translate(82.90 421.50) scale(1.040 1)" font-size="10.60" text-anchor="start" fill="#2e2e2e" stroke="#2e2e2e" stroke-width="0.15">100</text>
<g transform="translate(82.90 421.50) scale(1.040 1)" fill="#fff"><rect x="0.457" y="-0.912" width="2.188" height="1.292"/><rect x="3.622" y="-0.912" width="2.105" height="1.292"/></g>
<text transform="translate(127.68 421.50) scale(1.040 1)" font-size="10.60" text-anchor="start" fill="#2e2e2e" stroke="#2e2e2e" stroke-width="0.15">200</text>
<text transform="translate(172.37 421.50) scale(1.040 1)" font-size="10.60" text-anchor="start" fill="#2e2e2e" stroke="#2e2e2e" stroke-width="0.15">300</text>
<text transform="translate(217.08 421.50) scale(1.040 1)" font-size="10.60" text-anchor="start" fill="#2e2e2e" stroke="#2e2e2e" stroke-width="0.15">400</text>
<text transform="translate(261.62 421.50) scale(1.040 1)" font-size="10.60" text-anchor="start" fill="#2e2e2e" stroke="#2e2e2e" stroke-width="0.15">500</text>
<text transform="translate(119.34 437.50) scale(1.024 1)" font-size="12.00" text-anchor="start" fill="#2e2e2e" stroke="#2e2e2e" stroke-width="0.15">Frequency (Hz)</text>
<text transform="translate(111.06 275.50) scale(1.025 1)" font-size="12.70" text-anchor="start" fill="#ff0000" stroke="#ff0000" stroke-width="0.15">100 Hz</text>
<g transform="translate(111.06 275.50) scale(1.025 1)" fill="#fff"><rect x="0.617" y="-1.069" width="2.556" height="1.449"/><rect x="4.336" y="-1.069" width="2.457" height="1.449"/></g>
<text transform="translate(143.37 357.20) scale(1.017 1)" font-size="12.70" text-anchor="start" fill="#ff0000" stroke="#ff0000" stroke-width="0.15">150 Hz</text>
<g transform="translate(143.37 357.20) scale(1.017 1)" fill="#fff"><rect x="0.617" y="-1.069" width="2.556" height="1.449"/><rect x="4.336" y="-1.069" width="2.457" height="1.449"/></g>
<path d="M113.00 264.50L102.98 259.37" stroke="#ff0000" stroke-width="1.0" fill="none"/>
<path d="M97.20 256.40L105.03 256.48L102.54 259.14L101.83 262.71Z" fill="#ff0000"/>
<path d="M142.80 349.70L126.05 344.00" stroke="#ff0000" stroke-width="1.0" fill="none"/>
<path d="M119.90 341.90L127.65 340.84L125.58 343.83L125.40 347.47Z" fill="#ff0000"/>
<rect x="326.70" y="232.30" width="217.10" height="173.10" fill="none" stroke="#9a9a9a" stroke-width="1.05"/>
<path d="M390.40 405.40V403.20M390.40 232.30V234.50M454.40 405.40V403.20M454.40 232.30V234.50M518.40 405.40V403.20M518.40 232.30V234.50M326.70 391.41H328.90M543.80 391.41H541.60M326.70 362.43H328.90M543.80 362.43H541.60M326.70 333.45H328.90M543.80 333.45H541.60M326.70 304.47H328.90M543.80 304.47H541.60M326.70 275.49H328.90M543.80 275.49H541.60M326.70 246.51H328.90M543.80 246.51H541.60" stroke="#9a9a9a" stroke-width="1.05" fill="none"/>
<path d="M332.80 333.45V405.40" stroke="#62adcb" stroke-width="1.25"/>
<path d="M339.20 333.45V405.40" stroke="#62adcb" stroke-width="1.25"/>
<path d="M345.60 333.45V405.40" stroke="#62adcb" stroke-width="1.25"/>
<path d="M352.00 333.45V405.40" stroke="#62adcb" stroke-width="1.25"/>
<path d="M358.40 333.45V405.40" stroke="#62adcb" stroke-width="1.25"/>
<path d="M364.80 333.45V405.40" stroke="#62adcb" stroke-width="1.25"/>
<path d="M371.20 333.45V405.40" stroke="#62adcb" stroke-width="1.25"/>
<path d="M377.60 333.45V405.40" stroke="#62adcb" stroke-width="1.25"/>
<path d="M384.00 333.45V405.40" stroke="#62adcb" stroke-width="1.25"/>
<path d="M390.40 333.45V405.40" stroke="#62adcb" stroke-width="1.25"/>
<path d="M396.80 333.45V405.40" stroke="#62adcb" stroke-width="1.25"/>
<path d="M403.20 333.45V405.40" stroke="#62adcb" stroke-width="1.25"/>
<path d="M409.60 333.45V405.40" stroke="#62adcb" stroke-width="1.25"/>
<path d="M416.00 333.45V405.40" stroke="#62adcb" stroke-width="1.25"/>
<path d="M422.40 333.45V405.40" stroke="#62adcb" stroke-width="1.25"/>
<path d="M428.80 333.45V405.40" stroke="#62adcb" stroke-width="1.25"/>
<path d="M435.20 333.45V405.40" stroke="#62adcb" stroke-width="1.25"/>
<path d="M441.60 333.45V405.40" stroke="#62adcb" stroke-width="1.25"/>
<path d="M448.00 333.45V405.40" stroke="#62adcb" stroke-width="1.25"/>
<path d="M454.40 333.45V263.39" stroke="#62adcb" stroke-width="1.25"/>
<path d="M460.80 333.45V291.21" stroke="#62adcb" stroke-width="1.25"/>
<path d="M467.20 333.45V295.85" stroke="#62adcb" stroke-width="1.25"/>
<path d="M473.60 333.45V295.41" stroke="#62adcb" stroke-width="1.25"/>
<path d="M480.00 333.45V297.44" stroke="#62adcb" stroke-width="1.25"/>
<path d="M486.40 333.45V298.60" stroke="#62adcb" stroke-width="1.25"/>
<path d="M492.80 333.45V300.19" stroke="#62adcb" stroke-width="1.25"/>
<path d="M499.20 333.45V301.35" stroke="#62adcb" stroke-width="1.25"/>
<path d="M505.60 333.45V302.22" stroke="#62adcb" stroke-width="1.25"/>
<path d="M512.00 333.45V304.69" stroke="#62adcb" stroke-width="1.25"/>
<path d="M518.40 333.45V331.49" stroke="#62adcb" stroke-width="1.25"/>
<path d="M524.80 333.45V278.60" stroke="#62adcb" stroke-width="1.25"/>
<path d="M531.20 333.45V292.08" stroke="#62adcb" stroke-width="1.25"/>
<path d="M537.60 333.45V292.51" stroke="#62adcb" stroke-width="1.25"/>
<path d="M544.00 333.45V292.08" stroke="#62adcb" stroke-width="1.25"/>
<path d="M326.7 333.45H543.8" stroke="#6b6b6b" stroke-width="1"/>
<circle cx="454.40" cy="261.29" r="2.15" fill="none" stroke="#3aa3d3" stroke-width="1.0"/>
<circle cx="460.80" cy="289.11" r="2.15" fill="none" stroke="#3aa3d3" stroke-width="1.0"/>
<circle cx="467.20" cy="293.75" r="2.15" fill="none" stroke="#3aa3d3" stroke-width="1.0"/>
<circle cx="473.60" cy="293.31" r="2.15" fill="none" stroke="#3aa3d3" stroke-width="1.0"/>
<circle cx="480.00" cy="295.34" r="2.15" fill="none" stroke="#3aa3d3" stroke-width="1.0"/>
<circle cx="486.40" cy="296.50" r="2.15" fill="none" stroke="#3aa3d3" stroke-width="1.0"/>
<circle cx="492.80" cy="298.09" r="2.15" fill="none" stroke="#3aa3d3" stroke-width="1.0"/>
<circle cx="499.20" cy="299.25" r="2.15" fill="none" stroke="#3aa3d3" stroke-width="1.0"/>
<circle cx="505.60" cy="300.12" r="2.15" fill="none" stroke="#3aa3d3" stroke-width="1.0"/>
<circle cx="512.00" cy="302.59" r="2.15" fill="none" stroke="#3aa3d3" stroke-width="1.0"/>
<circle cx="518.40" cy="329.39" r="2.15" fill="none" stroke="#3aa3d3" stroke-width="1.0"/>
<circle cx="524.80" cy="276.50" r="2.15" fill="none" stroke="#3aa3d3" stroke-width="1.0"/>
<circle cx="531.20" cy="289.98" r="2.15" fill="none" stroke="#3aa3d3" stroke-width="1.0"/>
<circle cx="537.60" cy="290.41" r="2.15" fill="none" stroke="#3aa3d3" stroke-width="1.0"/>
<circle cx="544.00" cy="289.98" r="2.15" fill="none" stroke="#3aa3d3" stroke-width="1.0"/>
<text transform="translate(300.96 395.95) scale(1.040 1)" font-size="10.60" text-anchor="start" fill="#2e2e2e" stroke="#2e2e2e" stroke-width="0.15">−0.4</text>
<text transform="translate(301.19 366.97) scale(1.040 1)" font-size="10.60" text-anchor="start" fill="#2e2e2e" stroke="#2e2e2e" stroke-width="0.15">−0.2</text>
<text transform="translate(316.70 337.99) scale(1.040 1)" font-size="10.60" text-anchor="start" fill="#2e2e2e" stroke="#2e2e2e" stroke-width="0.15">0</text>
<text transform="translate(307.63 309.01) scale(1.040 1)" font-size="10.60" text-anchor="start" fill="#2e2e2e" stroke="#2e2e2e" stroke-width="0.15">0.2</text>
<text transform="translate(307.40 280.03) scale(1.040 1)" font-size="10.60" text-anchor="start" fill="#2e2e2e" stroke="#2e2e2e" stroke-width="0.15">0.4</text>
<text transform="translate(307.56 251.05) scale(1.040 1)" font-size="10.60" text-anchor="start" fill="#2e2e2e" stroke="#2e2e2e" stroke-width="0.15">0.6</text>
<text transform="translate(323.34 421.30) scale(1.040 1)" font-size="10.60" text-anchor="start" fill="#2e2e2e" stroke="#2e2e2e" stroke-width="0.15">0</text>
<text transform="translate(384.27 421.30) scale(1.040 1)" font-size="10.60" text-anchor="start" fill="#2e2e2e" stroke="#2e2e2e" stroke-width="0.15">50</text>
<text transform="translate(445.00 421.30) scale(1.040 1)" font-size="10.60" text-anchor="start" fill="#2e2e2e" stroke="#2e2e2e" stroke-width="0.15">100</text>
<g transform="translate(445.00 421.30) scale(1.040 1)" fill="#fff"><rect x="0.457" y="-0.912" width="2.188" height="1.292"/><rect x="3.622" y="-0.912" width="2.105" height="1.292"/></g>
<text transform="translate(509.00 421.30) scale(1.040 1)" font-size="10.60" text-anchor="start" fill="#2e2e2e" stroke="#2e2e2e" stroke-width="0.15">150</text>
<g transform="translate(509.00 421.30) scale(1.040 1)" fill="#fff"><rect x="0.457" y="-0.912" width="2.188" height="1.292"/><rect x="3.622" y="-0.912" width="2.105" height="1.292"/></g>
<text transform="translate(393.34 437.50) scale(1.021 1)" font-size="12.00" text-anchor="start" fill="#2e2e2e" stroke="#2e2e2e" stroke-width="0.15">Frequency (Hz)</text>
<text transform="translate(375.55 292.10) scale(1.016 1)" font-size="12.60" text-anchor="start" fill="#ff0000" stroke="#ff0000" stroke-width="0.15">0.499 ms</text>
<text transform="translate(458.04 378.00) scale(1.032 1)" font-size="12.60" text-anchor="start" fill="#ff0000" stroke="#ff0000" stroke-width="0.15">0.028 ms</text>
<path d="M424.10 282.40L443.69 267.01" stroke="#ff0000" stroke-width="1.0" fill="none"/>
<path d="M448.80 263.00L445.46 270.08L444.08 266.71L441.13 264.57Z" fill="#ff0000"/>
<path d="M479.60 363.60L512.30 339.10" stroke="#ff0000" stroke-width="1.0" fill="none"/>
<path d="M517.50 335.20L514.00 342.20L512.70 338.80L509.80 336.60Z" fill="#ff0000"/>
<text transform="translate(15.40 149.24) rotate(-90) scale(1.009 1)" font-size="12.00" text-anchor="start" fill="#2e2e2e" stroke="#2e2e2e" stroke-width="0.15">Phase shift (rad)</text>
<text transform="translate(288.40 149.24) rotate(-90) scale(1.009 1)" font-size="12.00" text-anchor="start" fill="#2e2e2e" stroke="#2e2e2e" stroke-width="0.15">Phase shift (rad)</text>
<text transform="translate(14.60 363.34) rotate(-90) scale(0.987 1)" font-size="12.00" text-anchor="start" fill="#2e2e2e" stroke="#2e2e2e" stroke-width="0.15">Initial phase (rad)</text>
<text transform="translate(290.10 359.53) rotate(-90) scale(1.048 1)" font-size="12.00" text-anchor="start" fill="#2e2e2e" stroke="#2e2e2e" stroke-width="0.15">Time delay (ms)</text>
<text transform="translate(2.61 13.60) scale(0.970 1)" font-size="13.90" text-anchor="start" fill="#141414" stroke="#141414" stroke-width="0.15">(a)</text>
<text transform="translate(278.06 13.70) scale(1.035 1)" font-size="13.90" text-anchor="start" fill="#141414" stroke="#141414" stroke-width="0.15">(b)</text>
<text transform="translate(2.41 222.80) scale(0.980 1)" font-size="13.90" text-anchor="start" fill="#141414" stroke="#141414" stroke-width="0.15">(c)</text>
<text transform="translate(281.49 223.20) scale(1.002 1)" font-size="13.90" text-anchor="start" fill="#141414" stroke="#141414" stroke-width="0.15">(d)</text>
</svg>
</body></html>
